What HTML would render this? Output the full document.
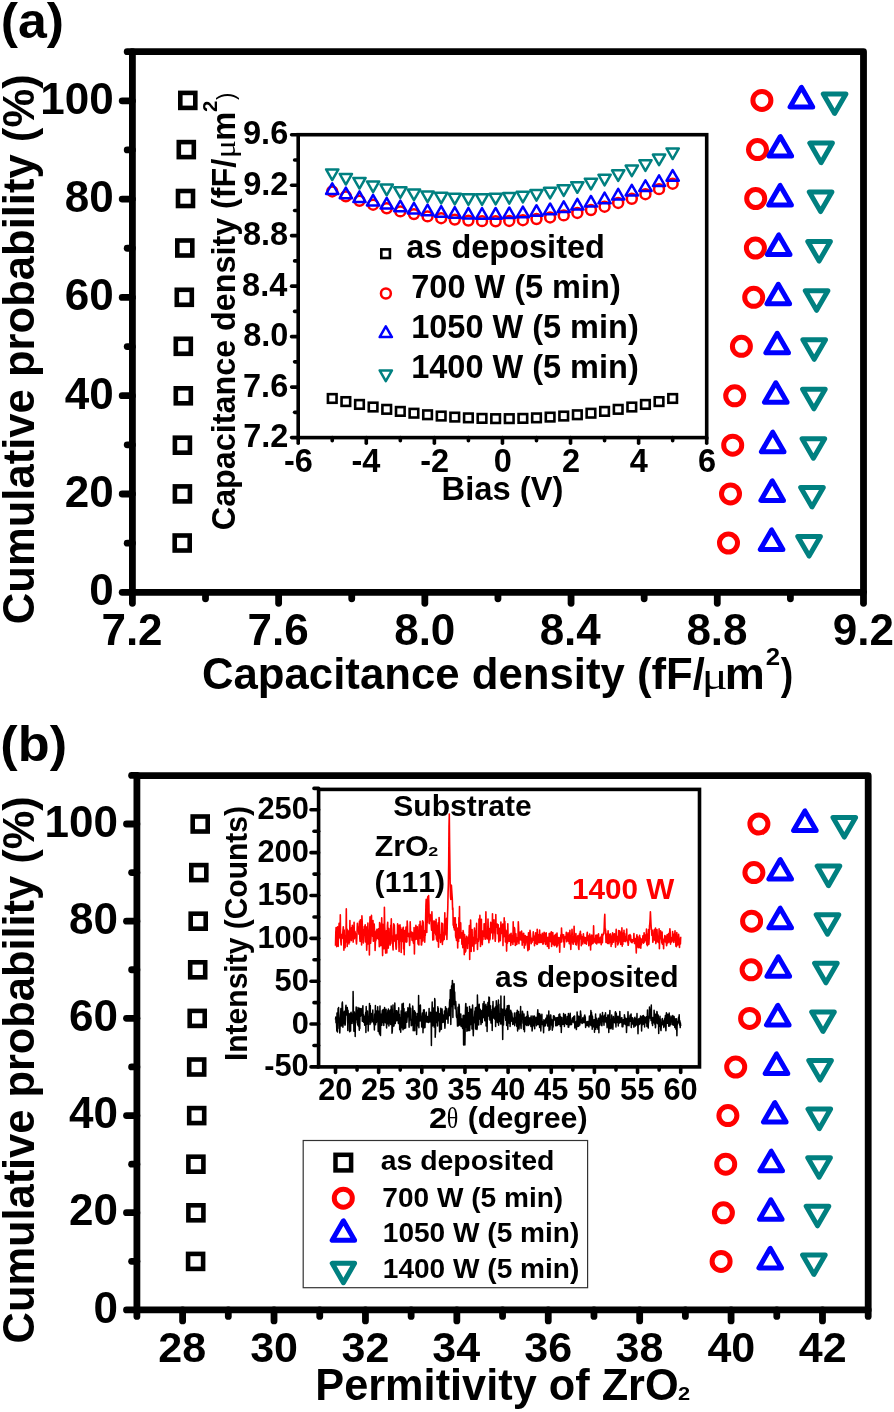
<!DOCTYPE html>
<html lang="en"><head><meta charset="utf-8"><title>Figure</title>
<style>html,body{margin:0;padding:0;background:#fff}svg{display:block}</style></head>
<body>
<svg width="894" height="1412" viewBox="0 0 894 1412">
<defs><filter id="soft" x="0" y="0" width="100%" height="100%" filterUnits="userSpaceOnUse" primitiveUnits="userSpaceOnUse"><feGaussianBlur stdDeviation="0.55"/></filter></defs>
<rect width="894" height="1412" fill="#fff"/>
<g filter="url(#soft)">
<rect width="894" height="1412" fill="#fff"/>
<rect x="132.4" y="51.6" width="731.1" height="540.6999999999999" fill="none" stroke="#000" stroke-width="6.8" stroke-linejoin="round"/>
<line x1="132.40" y1="592.30" x2="122.20" y2="592.30" stroke="#000" stroke-width="6.8" stroke-linecap="round"/>
<line x1="132.40" y1="543.15" x2="127.20" y2="543.15" stroke="#000" stroke-width="6.8" stroke-linecap="round"/>
<line x1="132.40" y1="494.00" x2="122.20" y2="494.00" stroke="#000" stroke-width="6.8" stroke-linecap="round"/>
<line x1="132.40" y1="444.85" x2="127.20" y2="444.85" stroke="#000" stroke-width="6.8" stroke-linecap="round"/>
<line x1="132.40" y1="395.70" x2="122.20" y2="395.70" stroke="#000" stroke-width="6.8" stroke-linecap="round"/>
<line x1="132.40" y1="346.55" x2="127.20" y2="346.55" stroke="#000" stroke-width="6.8" stroke-linecap="round"/>
<line x1="132.40" y1="297.40" x2="122.20" y2="297.40" stroke="#000" stroke-width="6.8" stroke-linecap="round"/>
<line x1="132.40" y1="248.25" x2="127.20" y2="248.25" stroke="#000" stroke-width="6.8" stroke-linecap="round"/>
<line x1="132.40" y1="199.10" x2="122.20" y2="199.10" stroke="#000" stroke-width="6.8" stroke-linecap="round"/>
<line x1="132.40" y1="149.95" x2="127.20" y2="149.95" stroke="#000" stroke-width="6.8" stroke-linecap="round"/>
<line x1="132.40" y1="100.80" x2="122.20" y2="100.80" stroke="#000" stroke-width="6.8" stroke-linecap="round"/>
<line x1="132.40" y1="51.65" x2="127.20" y2="51.65" stroke="#000" stroke-width="6.8" stroke-linecap="round"/>
<line x1="132.40" y1="592.30" x2="132.40" y2="603.30" stroke="#000" stroke-width="6.8" stroke-linecap="round"/>
<line x1="205.51" y1="592.30" x2="205.51" y2="598.80" stroke="#000" stroke-width="6.8" stroke-linecap="round"/>
<line x1="278.62" y1="592.30" x2="278.62" y2="603.30" stroke="#000" stroke-width="6.8" stroke-linecap="round"/>
<line x1="351.73" y1="592.30" x2="351.73" y2="598.80" stroke="#000" stroke-width="6.8" stroke-linecap="round"/>
<line x1="424.84" y1="592.30" x2="424.84" y2="603.30" stroke="#000" stroke-width="6.8" stroke-linecap="round"/>
<line x1="497.95" y1="592.30" x2="497.95" y2="598.80" stroke="#000" stroke-width="6.8" stroke-linecap="round"/>
<line x1="571.06" y1="592.30" x2="571.06" y2="603.30" stroke="#000" stroke-width="6.8" stroke-linecap="round"/>
<line x1="644.17" y1="592.30" x2="644.17" y2="598.80" stroke="#000" stroke-width="6.8" stroke-linecap="round"/>
<line x1="717.28" y1="592.30" x2="717.28" y2="603.30" stroke="#000" stroke-width="6.8" stroke-linecap="round"/>
<line x1="790.39" y1="592.30" x2="790.39" y2="598.80" stroke="#000" stroke-width="6.8" stroke-linecap="round"/>
<line x1="863.50" y1="592.30" x2="863.50" y2="603.30" stroke="#000" stroke-width="6.8" stroke-linecap="round"/>
<text x="89.14" y="605.10" font-size="44" font-family="Liberation Sans, Arial, sans-serif" font-weight="bold">0</text>
<text x="64.72" y="506.80" font-size="44" font-family="Liberation Sans, Arial, sans-serif" font-weight="bold">20</text>
<text x="64.72" y="408.50" font-size="44" font-family="Liberation Sans, Arial, sans-serif" font-weight="bold">40</text>
<text x="64.72" y="310.20" font-size="44" font-family="Liberation Sans, Arial, sans-serif" font-weight="bold">60</text>
<text x="64.72" y="211.90" font-size="44" font-family="Liberation Sans, Arial, sans-serif" font-weight="bold">80</text>
<text x="40.30" y="113.60" font-size="44" font-family="Liberation Sans, Arial, sans-serif" font-weight="bold">100</text>
<text x="101.41" y="645.30" font-size="44" font-family="Liberation Sans, Arial, sans-serif" font-weight="bold">7.2</text>
<text x="247.52" y="645.30" font-size="44" font-family="Liberation Sans, Arial, sans-serif" font-weight="bold">7.6</text>
<text x="394.18" y="645.30" font-size="44" font-family="Liberation Sans, Arial, sans-serif" font-weight="bold">8.0</text>
<text x="539.63" y="645.30" font-size="44" font-family="Liberation Sans, Arial, sans-serif" font-weight="bold">8.4</text>
<text x="686.40" y="645.30" font-size="44" font-family="Liberation Sans, Arial, sans-serif" font-weight="bold">8.8</text>
<text x="832.73" y="645.30" font-size="44" font-family="Liberation Sans, Arial, sans-serif" font-weight="bold">9.2</text>
<text transform="translate(33.90 624.24) rotate(-90)" font-size="44.5" font-family="Liberation Sans, Arial, sans-serif" font-weight="bold" textLength="549.92" lengthAdjust="spacingAndGlyphs">Cumulative probability (%)</text>
<text x="0.81" y="37.80" font-size="50.5" font-family="Liberation Sans, Arial, sans-serif" font-weight="bold" textLength="63.34" lengthAdjust="spacingAndGlyphs">(a)</text>
<text font-family="Liberation Sans, Arial, sans-serif" font-weight="bold"><tspan x="201.95" y="688.80" font-size="44.5"  textLength="503.01" lengthAdjust="spacingAndGlyphs">Capacitance density (fF/</tspan><tspan x="701.73" y="688.50" font-size="37" font-family="Liberation Serif, DejaVu Serif, serif" font-weight="normal" textLength="25.97" lengthAdjust="spacingAndGlyphs">μ</tspan><tspan x="724.78" y="688.80" font-size="44.5"  textLength="40.01" lengthAdjust="spacingAndGlyphs">m</tspan><tspan x="765.70" y="665.20" font-size="24"  textLength="14.37" lengthAdjust="spacingAndGlyphs">2</tspan><tspan x="780.81" y="688.80" font-size="44.5"  textLength="12.49" lengthAdjust="spacingAndGlyphs">)</tspan></text>
<rect x="180.30" y="92.90" width="15.00" height="15.00" fill="none" stroke="#000" stroke-width="4.6"/>
<circle cx="761.90" cy="100.40" r="9.00" fill="none" stroke="#ff0000" stroke-width="5.0"/>
<polygon points="801.40,87.35 790.10,106.92 812.70,106.92" fill="none" stroke="#0000ff" stroke-width="5.0" stroke-linejoin="round"/>
<polygon points="834.60,113.45 823.30,93.88 845.90,93.88" fill="none" stroke="#008080" stroke-width="5.0" stroke-linejoin="round"/>
<rect x="178.80" y="142.10" width="15.00" height="15.00" fill="none" stroke="#000" stroke-width="4.6"/>
<circle cx="757.50" cy="149.60" r="9.00" fill="none" stroke="#ff0000" stroke-width="5.0"/>
<polygon points="780.30,136.55 769.00,156.12 791.60,156.12" fill="none" stroke="#0000ff" stroke-width="5.0" stroke-linejoin="round"/>
<polygon points="821.10,162.65 809.80,143.08 832.40,143.08" fill="none" stroke="#008080" stroke-width="5.0" stroke-linejoin="round"/>
<rect x="178.00" y="191.00" width="15.00" height="15.00" fill="none" stroke="#000" stroke-width="4.6"/>
<circle cx="755.70" cy="198.50" r="9.00" fill="none" stroke="#ff0000" stroke-width="5.0"/>
<polygon points="780.10,185.45 768.80,205.02 791.40,205.02" fill="none" stroke="#0000ff" stroke-width="5.0" stroke-linejoin="round"/>
<polygon points="820.60,211.55 809.30,191.98 831.90,191.98" fill="none" stroke="#008080" stroke-width="5.0" stroke-linejoin="round"/>
<rect x="177.30" y="240.50" width="15.00" height="15.00" fill="none" stroke="#000" stroke-width="4.6"/>
<circle cx="755.40" cy="248.00" r="9.00" fill="none" stroke="#ff0000" stroke-width="5.0"/>
<polygon points="778.70,234.95 767.40,254.52 790.00,254.52" fill="none" stroke="#0000ff" stroke-width="5.0" stroke-linejoin="round"/>
<polygon points="819.10,261.05 807.80,241.48 830.40,241.48" fill="none" stroke="#008080" stroke-width="5.0" stroke-linejoin="round"/>
<rect x="176.80" y="289.80" width="15.00" height="15.00" fill="none" stroke="#000" stroke-width="4.6"/>
<circle cx="753.70" cy="297.30" r="9.00" fill="none" stroke="#ff0000" stroke-width="5.0"/>
<polygon points="778.30,284.25 767.00,303.82 789.60,303.82" fill="none" stroke="#0000ff" stroke-width="5.0" stroke-linejoin="round"/>
<polygon points="816.60,310.35 805.30,290.78 827.90,290.78" fill="none" stroke="#008080" stroke-width="5.0" stroke-linejoin="round"/>
<rect x="175.80" y="338.80" width="15.00" height="15.00" fill="none" stroke="#000" stroke-width="4.6"/>
<circle cx="741.40" cy="346.30" r="9.00" fill="none" stroke="#ff0000" stroke-width="5.0"/>
<polygon points="777.20,333.25 765.90,352.82 788.50,352.82" fill="none" stroke="#0000ff" stroke-width="5.0" stroke-linejoin="round"/>
<polygon points="814.20,359.35 802.90,339.78 825.50,339.78" fill="none" stroke="#008080" stroke-width="5.0" stroke-linejoin="round"/>
<rect x="175.80" y="388.30" width="15.00" height="15.00" fill="none" stroke="#000" stroke-width="4.6"/>
<circle cx="734.70" cy="395.80" r="9.00" fill="none" stroke="#ff0000" stroke-width="5.0"/>
<polygon points="775.80,382.75 764.50,402.32 787.10,402.32" fill="none" stroke="#0000ff" stroke-width="5.0" stroke-linejoin="round"/>
<polygon points="813.90,408.85 802.60,389.28 825.20,389.28" fill="none" stroke="#008080" stroke-width="5.0" stroke-linejoin="round"/>
<rect x="174.90" y="437.70" width="15.00" height="15.00" fill="none" stroke="#000" stroke-width="4.6"/>
<circle cx="732.70" cy="445.20" r="9.00" fill="none" stroke="#ff0000" stroke-width="5.0"/>
<polygon points="772.70,432.15 761.40,451.72 784.00,451.72" fill="none" stroke="#0000ff" stroke-width="5.0" stroke-linejoin="round"/>
<polygon points="813.40,458.25 802.10,438.68 824.70,438.68" fill="none" stroke="#008080" stroke-width="5.0" stroke-linejoin="round"/>
<rect x="174.90" y="486.40" width="15.00" height="15.00" fill="none" stroke="#000" stroke-width="4.6"/>
<circle cx="730.50" cy="493.90" r="9.00" fill="none" stroke="#ff0000" stroke-width="5.0"/>
<polygon points="772.20,480.85 760.90,500.42 783.50,500.42" fill="none" stroke="#0000ff" stroke-width="5.0" stroke-linejoin="round"/>
<polygon points="812.00,506.95 800.70,487.38 823.30,487.38" fill="none" stroke="#008080" stroke-width="5.0" stroke-linejoin="round"/>
<rect x="174.70" y="535.50" width="15.00" height="15.00" fill="none" stroke="#000" stroke-width="4.6"/>
<circle cx="728.50" cy="543.00" r="9.00" fill="none" stroke="#ff0000" stroke-width="5.0"/>
<polygon points="771.60,529.95 760.30,549.52 782.90,549.52" fill="none" stroke="#0000ff" stroke-width="5.0" stroke-linejoin="round"/>
<polygon points="809.10,556.05 797.80,536.48 820.40,536.48" fill="none" stroke="#008080" stroke-width="5.0" stroke-linejoin="round"/>
<rect x="298.2" y="134.7" width="408.50000000000006" height="302.90000000000003" fill="none" stroke="#000" stroke-width="3.6"/>
<line x1="298.20" y1="437.60" x2="291.60" y2="437.60" stroke="#000" stroke-width="3.6" stroke-linecap="round"/>
<line x1="298.20" y1="412.36" x2="294.60" y2="412.36" stroke="#000" stroke-width="3.6" stroke-linecap="round"/>
<line x1="298.20" y1="387.12" x2="291.60" y2="387.12" stroke="#000" stroke-width="3.6" stroke-linecap="round"/>
<line x1="298.20" y1="361.87" x2="294.60" y2="361.87" stroke="#000" stroke-width="3.6" stroke-linecap="round"/>
<line x1="298.20" y1="336.63" x2="291.60" y2="336.63" stroke="#000" stroke-width="3.6" stroke-linecap="round"/>
<line x1="298.20" y1="311.39" x2="294.60" y2="311.39" stroke="#000" stroke-width="3.6" stroke-linecap="round"/>
<line x1="298.20" y1="286.15" x2="291.60" y2="286.15" stroke="#000" stroke-width="3.6" stroke-linecap="round"/>
<line x1="298.20" y1="260.91" x2="294.60" y2="260.91" stroke="#000" stroke-width="3.6" stroke-linecap="round"/>
<line x1="298.20" y1="235.67" x2="291.60" y2="235.67" stroke="#000" stroke-width="3.6" stroke-linecap="round"/>
<line x1="298.20" y1="210.43" x2="294.60" y2="210.43" stroke="#000" stroke-width="3.6" stroke-linecap="round"/>
<line x1="298.20" y1="185.18" x2="291.60" y2="185.18" stroke="#000" stroke-width="3.6" stroke-linecap="round"/>
<line x1="298.20" y1="159.94" x2="294.60" y2="159.94" stroke="#000" stroke-width="3.6" stroke-linecap="round"/>
<line x1="298.20" y1="134.70" x2="291.60" y2="134.70" stroke="#000" stroke-width="3.6" stroke-linecap="round"/>
<line x1="298.20" y1="437.60" x2="298.20" y2="443.20" stroke="#000" stroke-width="3.6" stroke-linecap="round"/>
<line x1="332.24" y1="437.60" x2="332.24" y2="440.80" stroke="#000" stroke-width="3.6" stroke-linecap="round"/>
<line x1="366.28" y1="437.60" x2="366.28" y2="443.20" stroke="#000" stroke-width="3.6" stroke-linecap="round"/>
<line x1="400.32" y1="437.60" x2="400.32" y2="440.80" stroke="#000" stroke-width="3.6" stroke-linecap="round"/>
<line x1="434.37" y1="437.60" x2="434.37" y2="443.20" stroke="#000" stroke-width="3.6" stroke-linecap="round"/>
<line x1="468.41" y1="437.60" x2="468.41" y2="440.80" stroke="#000" stroke-width="3.6" stroke-linecap="round"/>
<line x1="502.45" y1="437.60" x2="502.45" y2="443.20" stroke="#000" stroke-width="3.6" stroke-linecap="round"/>
<line x1="536.49" y1="437.60" x2="536.49" y2="440.80" stroke="#000" stroke-width="3.6" stroke-linecap="round"/>
<line x1="570.53" y1="437.60" x2="570.53" y2="443.20" stroke="#000" stroke-width="3.6" stroke-linecap="round"/>
<line x1="604.58" y1="437.60" x2="604.58" y2="440.80" stroke="#000" stroke-width="3.6" stroke-linecap="round"/>
<line x1="638.62" y1="437.60" x2="638.62" y2="443.20" stroke="#000" stroke-width="3.6" stroke-linecap="round"/>
<line x1="672.66" y1="437.60" x2="672.66" y2="440.80" stroke="#000" stroke-width="3.6" stroke-linecap="round"/>
<line x1="706.70" y1="437.60" x2="706.70" y2="443.20" stroke="#000" stroke-width="3.6" stroke-linecap="round"/>
<text x="243.22" y="447.00" font-size="32.5" font-family="Liberation Sans, Arial, sans-serif" font-weight="bold">7.2</text>
<text x="243.06" y="396.52" font-size="32.5" font-family="Liberation Sans, Arial, sans-serif" font-weight="bold">7.6</text>
<text x="243.23" y="346.03" font-size="32.5" font-family="Liberation Sans, Arial, sans-serif" font-weight="bold">8.0</text>
<text x="242.09" y="295.55" font-size="32.5" font-family="Liberation Sans, Arial, sans-serif" font-weight="bold">8.4</text>
<text x="242.90" y="245.07" font-size="32.5" font-family="Liberation Sans, Arial, sans-serif" font-weight="bold">8.8</text>
<text x="243.23" y="194.58" font-size="32.5" font-family="Liberation Sans, Arial, sans-serif" font-weight="bold">9.2</text>
<text x="243.06" y="144.10" font-size="32.5" font-family="Liberation Sans, Arial, sans-serif" font-weight="bold">9.6</text>
<text x="283.96" y="472.40" font-size="32.5" font-family="Liberation Sans, Arial, sans-serif" font-weight="bold">-6</text>
<text x="351.55" y="472.40" font-size="32.5" font-family="Liberation Sans, Arial, sans-serif" font-weight="bold">-4</text>
<text x="420.20" y="472.40" font-size="32.5" font-family="Liberation Sans, Arial, sans-serif" font-weight="bold">-2</text>
<text x="493.73" y="472.40" font-size="32.5" font-family="Liberation Sans, Arial, sans-serif" font-weight="bold">0</text>
<text x="561.90" y="472.40" font-size="32.5" font-family="Liberation Sans, Arial, sans-serif" font-weight="bold">2</text>
<text x="629.74" y="472.40" font-size="32.5" font-family="Liberation Sans, Arial, sans-serif" font-weight="bold">4</text>
<text x="697.98" y="472.40" font-size="32.5" font-family="Liberation Sans, Arial, sans-serif" font-weight="bold">6</text>
<rect x="327.94" y="394.18" width="8.60" height="8.60" fill="none" stroke="#000" stroke-width="2.6"/>
<rect x="341.56" y="397.28" width="8.60" height="8.60" fill="none" stroke="#000" stroke-width="2.6"/>
<rect x="355.18" y="400.12" width="8.60" height="8.60" fill="none" stroke="#000" stroke-width="2.6"/>
<rect x="368.79" y="402.71" width="8.60" height="8.60" fill="none" stroke="#000" stroke-width="2.6"/>
<rect x="382.41" y="405.03" width="8.60" height="8.60" fill="none" stroke="#000" stroke-width="2.6"/>
<rect x="396.02" y="407.10" width="8.60" height="8.60" fill="none" stroke="#000" stroke-width="2.6"/>
<rect x="409.64" y="408.91" width="8.60" height="8.60" fill="none" stroke="#000" stroke-width="2.6"/>
<rect x="423.26" y="410.46" width="8.60" height="8.60" fill="none" stroke="#000" stroke-width="2.6"/>
<rect x="436.88" y="411.75" width="8.60" height="8.60" fill="none" stroke="#000" stroke-width="2.6"/>
<rect x="450.49" y="412.79" width="8.60" height="8.60" fill="none" stroke="#000" stroke-width="2.6"/>
<rect x="464.11" y="413.56" width="8.60" height="8.60" fill="none" stroke="#000" stroke-width="2.6"/>
<rect x="477.73" y="414.08" width="8.60" height="8.60" fill="none" stroke="#000" stroke-width="2.6"/>
<rect x="491.34" y="414.34" width="8.60" height="8.60" fill="none" stroke="#000" stroke-width="2.6"/>
<rect x="504.96" y="414.34" width="8.60" height="8.60" fill="none" stroke="#000" stroke-width="2.6"/>
<rect x="518.58" y="414.08" width="8.60" height="8.60" fill="none" stroke="#000" stroke-width="2.6"/>
<rect x="532.19" y="413.56" width="8.60" height="8.60" fill="none" stroke="#000" stroke-width="2.6"/>
<rect x="545.81" y="412.79" width="8.60" height="8.60" fill="none" stroke="#000" stroke-width="2.6"/>
<rect x="559.43" y="411.75" width="8.60" height="8.60" fill="none" stroke="#000" stroke-width="2.6"/>
<rect x="573.04" y="410.46" width="8.60" height="8.60" fill="none" stroke="#000" stroke-width="2.6"/>
<rect x="586.66" y="408.91" width="8.60" height="8.60" fill="none" stroke="#000" stroke-width="2.6"/>
<rect x="600.28" y="407.10" width="8.60" height="8.60" fill="none" stroke="#000" stroke-width="2.6"/>
<rect x="613.89" y="405.03" width="8.60" height="8.60" fill="none" stroke="#000" stroke-width="2.6"/>
<rect x="627.51" y="402.71" width="8.60" height="8.60" fill="none" stroke="#000" stroke-width="2.6"/>
<rect x="641.13" y="400.12" width="8.60" height="8.60" fill="none" stroke="#000" stroke-width="2.6"/>
<rect x="654.74" y="397.28" width="8.60" height="8.60" fill="none" stroke="#000" stroke-width="2.6"/>
<rect x="668.36" y="394.18" width="8.60" height="8.60" fill="none" stroke="#000" stroke-width="2.6"/>
<circle cx="332.24" cy="191.49" r="4.95" fill="none" stroke="#ff0000" stroke-width="2.5"/>
<circle cx="345.86" cy="196.33" r="4.95" fill="none" stroke="#ff0000" stroke-width="2.5"/>
<circle cx="359.48" cy="200.75" r="4.95" fill="none" stroke="#ff0000" stroke-width="2.5"/>
<circle cx="373.09" cy="204.73" r="4.95" fill="none" stroke="#ff0000" stroke-width="2.5"/>
<circle cx="386.71" cy="208.29" r="4.95" fill="none" stroke="#ff0000" stroke-width="2.5"/>
<circle cx="400.32" cy="211.42" r="4.95" fill="none" stroke="#ff0000" stroke-width="2.5"/>
<circle cx="413.94" cy="214.11" r="4.95" fill="none" stroke="#ff0000" stroke-width="2.5"/>
<circle cx="427.56" cy="216.38" r="4.95" fill="none" stroke="#ff0000" stroke-width="2.5"/>
<circle cx="441.18" cy="218.22" r="4.95" fill="none" stroke="#ff0000" stroke-width="2.5"/>
<circle cx="454.79" cy="219.62" r="4.95" fill="none" stroke="#ff0000" stroke-width="2.5"/>
<circle cx="468.41" cy="220.60" r="4.95" fill="none" stroke="#ff0000" stroke-width="2.5"/>
<circle cx="482.03" cy="221.15" r="4.95" fill="none" stroke="#ff0000" stroke-width="2.5"/>
<circle cx="495.64" cy="221.27" r="4.95" fill="none" stroke="#ff0000" stroke-width="2.5"/>
<circle cx="509.26" cy="220.96" r="4.95" fill="none" stroke="#ff0000" stroke-width="2.5"/>
<circle cx="522.88" cy="220.22" r="4.95" fill="none" stroke="#ff0000" stroke-width="2.5"/>
<circle cx="536.49" cy="219.04" r="4.95" fill="none" stroke="#ff0000" stroke-width="2.5"/>
<circle cx="550.11" cy="217.44" r="4.95" fill="none" stroke="#ff0000" stroke-width="2.5"/>
<circle cx="563.73" cy="215.41" r="4.95" fill="none" stroke="#ff0000" stroke-width="2.5"/>
<circle cx="577.34" cy="212.95" r="4.95" fill="none" stroke="#ff0000" stroke-width="2.5"/>
<circle cx="590.96" cy="210.06" r="4.95" fill="none" stroke="#ff0000" stroke-width="2.5"/>
<circle cx="604.58" cy="206.74" r="4.95" fill="none" stroke="#ff0000" stroke-width="2.5"/>
<circle cx="618.19" cy="202.99" r="4.95" fill="none" stroke="#ff0000" stroke-width="2.5"/>
<circle cx="631.81" cy="198.82" r="4.95" fill="none" stroke="#ff0000" stroke-width="2.5"/>
<circle cx="645.43" cy="194.21" r="4.95" fill="none" stroke="#ff0000" stroke-width="2.5"/>
<circle cx="659.04" cy="189.17" r="4.95" fill="none" stroke="#ff0000" stroke-width="2.5"/>
<circle cx="672.66" cy="183.70" r="4.95" fill="none" stroke="#ff0000" stroke-width="2.5"/>
<polygon points="332.24,183.28 326.09,193.93 338.39,193.93" fill="none" stroke="#0000ff" stroke-width="2.5" stroke-linejoin="round"/>
<polygon points="345.86,187.53 339.71,198.18 352.01,198.18" fill="none" stroke="#0000ff" stroke-width="2.5" stroke-linejoin="round"/>
<polygon points="359.48,191.38 353.33,202.03 365.62,202.03" fill="none" stroke="#0000ff" stroke-width="2.5" stroke-linejoin="round"/>
<polygon points="373.09,194.83 366.94,205.48 379.24,205.48" fill="none" stroke="#0000ff" stroke-width="2.5" stroke-linejoin="round"/>
<polygon points="386.71,197.88 380.56,208.53 392.86,208.53" fill="none" stroke="#0000ff" stroke-width="2.5" stroke-linejoin="round"/>
<polygon points="400.32,200.54 394.18,211.19 406.47,211.19" fill="none" stroke="#0000ff" stroke-width="2.5" stroke-linejoin="round"/>
<polygon points="413.94,202.79 407.79,213.44 420.09,213.44" fill="none" stroke="#0000ff" stroke-width="2.5" stroke-linejoin="round"/>
<polygon points="427.56,204.65 421.41,215.30 433.71,215.30" fill="none" stroke="#0000ff" stroke-width="2.5" stroke-linejoin="round"/>
<polygon points="441.18,206.11 435.03,216.77 447.32,216.77" fill="none" stroke="#0000ff" stroke-width="2.5" stroke-linejoin="round"/>
<polygon points="454.79,207.18 448.64,217.83 460.94,217.83" fill="none" stroke="#0000ff" stroke-width="2.5" stroke-linejoin="round"/>
<polygon points="468.41,207.84 462.26,218.50 474.56,218.50" fill="none" stroke="#0000ff" stroke-width="2.5" stroke-linejoin="round"/>
<polygon points="482.03,208.11 475.88,218.77 488.18,218.77" fill="none" stroke="#0000ff" stroke-width="2.5" stroke-linejoin="round"/>
<polygon points="495.64,207.98 489.49,218.64 501.79,218.64" fill="none" stroke="#0000ff" stroke-width="2.5" stroke-linejoin="round"/>
<polygon points="509.26,207.46 503.11,218.11 515.41,218.11" fill="none" stroke="#0000ff" stroke-width="2.5" stroke-linejoin="round"/>
<polygon points="522.88,206.53 516.73,217.18 529.02,217.18" fill="none" stroke="#0000ff" stroke-width="2.5" stroke-linejoin="round"/>
<polygon points="536.49,205.21 530.34,215.86 542.64,215.86" fill="none" stroke="#0000ff" stroke-width="2.5" stroke-linejoin="round"/>
<polygon points="550.11,203.49 543.96,214.14 556.26,214.14" fill="none" stroke="#0000ff" stroke-width="2.5" stroke-linejoin="round"/>
<polygon points="563.73,201.37 557.58,212.02 569.88,212.02" fill="none" stroke="#0000ff" stroke-width="2.5" stroke-linejoin="round"/>
<polygon points="577.34,198.85 571.19,209.51 583.49,209.51" fill="none" stroke="#0000ff" stroke-width="2.5" stroke-linejoin="round"/>
<polygon points="590.96,195.94 584.81,206.59 597.11,206.59" fill="none" stroke="#0000ff" stroke-width="2.5" stroke-linejoin="round"/>
<polygon points="604.58,192.63 598.43,203.28 610.73,203.28" fill="none" stroke="#0000ff" stroke-width="2.5" stroke-linejoin="round"/>
<polygon points="618.19,188.92 612.04,199.57 624.34,199.57" fill="none" stroke="#0000ff" stroke-width="2.5" stroke-linejoin="round"/>
<polygon points="631.81,184.81 625.66,195.46 637.96,195.46" fill="none" stroke="#0000ff" stroke-width="2.5" stroke-linejoin="round"/>
<polygon points="645.43,180.31 639.28,190.96 651.58,190.96" fill="none" stroke="#0000ff" stroke-width="2.5" stroke-linejoin="round"/>
<polygon points="659.04,175.40 652.89,186.06 665.19,186.06" fill="none" stroke="#0000ff" stroke-width="2.5" stroke-linejoin="round"/>
<polygon points="672.66,170.10 666.51,180.75 678.81,180.75" fill="none" stroke="#0000ff" stroke-width="2.5" stroke-linejoin="round"/>
<polygon points="332.24,180.06 326.09,169.41 338.39,169.41" fill="none" stroke="#008080" stroke-width="2.5" stroke-linejoin="round"/>
<polygon points="345.86,184.53 339.71,173.88 352.01,173.88" fill="none" stroke="#008080" stroke-width="2.5" stroke-linejoin="round"/>
<polygon points="359.48,188.55 353.33,177.90 365.62,177.90" fill="none" stroke="#008080" stroke-width="2.5" stroke-linejoin="round"/>
<polygon points="373.09,192.13 366.94,181.48 379.24,181.48" fill="none" stroke="#008080" stroke-width="2.5" stroke-linejoin="round"/>
<polygon points="386.71,195.27 380.56,184.62 392.86,184.62" fill="none" stroke="#008080" stroke-width="2.5" stroke-linejoin="round"/>
<polygon points="400.32,197.97 394.18,187.32 406.47,187.32" fill="none" stroke="#008080" stroke-width="2.5" stroke-linejoin="round"/>
<polygon points="413.94,200.23 407.79,189.57 420.09,189.57" fill="none" stroke="#008080" stroke-width="2.5" stroke-linejoin="round"/>
<polygon points="427.56,202.04 421.41,191.39 433.71,191.39" fill="none" stroke="#008080" stroke-width="2.5" stroke-linejoin="round"/>
<polygon points="441.18,203.41 435.03,192.76 447.32,192.76" fill="none" stroke="#008080" stroke-width="2.5" stroke-linejoin="round"/>
<polygon points="454.79,204.34 448.64,193.69 460.94,193.69" fill="none" stroke="#008080" stroke-width="2.5" stroke-linejoin="round"/>
<polygon points="468.41,204.83 462.26,194.17 474.56,194.17" fill="none" stroke="#008080" stroke-width="2.5" stroke-linejoin="round"/>
<polygon points="482.03,204.87 475.88,194.22 488.18,194.22" fill="none" stroke="#008080" stroke-width="2.5" stroke-linejoin="round"/>
<polygon points="495.64,204.47 489.49,193.82 501.79,193.82" fill="none" stroke="#008080" stroke-width="2.5" stroke-linejoin="round"/>
<polygon points="509.26,203.63 503.11,192.98 515.41,192.98" fill="none" stroke="#008080" stroke-width="2.5" stroke-linejoin="round"/>
<polygon points="522.88,202.35 516.73,191.70 529.02,191.70" fill="none" stroke="#008080" stroke-width="2.5" stroke-linejoin="round"/>
<polygon points="536.49,200.62 530.34,189.97 542.64,189.97" fill="none" stroke="#008080" stroke-width="2.5" stroke-linejoin="round"/>
<polygon points="550.11,198.46 543.96,187.81 556.26,187.81" fill="none" stroke="#008080" stroke-width="2.5" stroke-linejoin="round"/>
<polygon points="563.73,195.85 557.58,185.20 569.88,185.20" fill="none" stroke="#008080" stroke-width="2.5" stroke-linejoin="round"/>
<polygon points="577.34,192.80 571.19,182.15 583.49,182.15" fill="none" stroke="#008080" stroke-width="2.5" stroke-linejoin="round"/>
<polygon points="590.96,189.30 584.81,178.65 597.11,178.65" fill="none" stroke="#008080" stroke-width="2.5" stroke-linejoin="round"/>
<polygon points="604.58,185.37 598.43,174.72 610.73,174.72" fill="none" stroke="#008080" stroke-width="2.5" stroke-linejoin="round"/>
<polygon points="618.19,180.99 612.04,170.34 624.34,170.34" fill="none" stroke="#008080" stroke-width="2.5" stroke-linejoin="round"/>
<polygon points="631.81,176.17 625.66,165.52 637.96,165.52" fill="none" stroke="#008080" stroke-width="2.5" stroke-linejoin="round"/>
<polygon points="645.43,170.91 639.28,160.25 651.58,160.25" fill="none" stroke="#008080" stroke-width="2.5" stroke-linejoin="round"/>
<polygon points="659.04,165.20 652.89,154.55 665.19,154.55" fill="none" stroke="#008080" stroke-width="2.5" stroke-linejoin="round"/>
<polygon points="672.66,159.05 666.51,148.40 678.81,148.40" fill="none" stroke="#008080" stroke-width="2.5" stroke-linejoin="round"/>
<rect x="381.30" y="249.40" width="8.60" height="8.60" fill="none" stroke="#000" stroke-width="2.6"/>
<circle cx="385.90" cy="293.50" r="4.95" fill="none" stroke="#ff0000" stroke-width="2.5"/>
<polygon points="385.80,326.40 379.65,337.05 391.95,337.05" fill="none" stroke="#0000ff" stroke-width="2.5" stroke-linejoin="round"/>
<polygon points="385.80,381.10 379.65,370.45 391.95,370.45" fill="none" stroke="#008080" stroke-width="2.5" stroke-linejoin="round"/>
<text x="406.22" y="258.00" font-size="32.5" font-family="Liberation Sans, Arial, sans-serif" font-weight="bold">as deposited</text>
<text x="411.24" y="297.90" font-size="32.5" font-family="Liberation Sans, Arial, sans-serif" font-weight="bold">700 W (5 min)</text>
<text x="411.16" y="337.70" font-size="32.5" font-family="Liberation Sans, Arial, sans-serif" font-weight="bold">1050 W (5 min)</text>
<text x="411.16" y="378.00" font-size="32.5" font-family="Liberation Sans, Arial, sans-serif" font-weight="bold">1400 W (5 min)</text>
<text x="441.57" y="500.00" font-size="32.5" font-family="Liberation Sans, Arial, sans-serif" font-weight="bold" textLength="121.91" lengthAdjust="spacingAndGlyphs">Bias (V)</text>
<text transform="rotate(-90)" font-family="Liberation Sans, Arial, sans-serif" font-weight="bold"><tspan x="-530.19" y="235.00" font-size="32.3" >Capacitance density (fF/</tspan><tspan x="-158.22" y="234.70" font-size="29.3" font-family="Liberation Serif, DejaVu Serif, serif" font-weight="normal" textLength="18.22" lengthAdjust="spacingAndGlyphs">μ</tspan><tspan x="-140.82" y="234.70" font-size="32.8"  textLength="29.01" lengthAdjust="spacingAndGlyphs">m</tspan><tspan x="-111.91" y="216.80" font-size="20.5"  textLength="11.36" lengthAdjust="spacingAndGlyphs">2</tspan><tspan x="-100.02" y="234.10" font-size="24.6" font-weight="normal" textLength="7.30" lengthAdjust="spacingAndGlyphs">)</tspan></text>
<rect x="136.9" y="775.7" width="731.3000000000001" height="534.2" fill="none" stroke="#000" stroke-width="6.8" stroke-linejoin="round"/>
<line x1="136.90" y1="1309.90" x2="126.50" y2="1309.90" stroke="#000" stroke-width="6.8" stroke-linecap="round"/>
<line x1="136.90" y1="1261.31" x2="131.60" y2="1261.31" stroke="#000" stroke-width="6.8" stroke-linecap="round"/>
<line x1="136.90" y1="1212.72" x2="126.50" y2="1212.72" stroke="#000" stroke-width="6.8" stroke-linecap="round"/>
<line x1="136.90" y1="1164.13" x2="131.60" y2="1164.13" stroke="#000" stroke-width="6.8" stroke-linecap="round"/>
<line x1="136.90" y1="1115.54" x2="126.50" y2="1115.54" stroke="#000" stroke-width="6.8" stroke-linecap="round"/>
<line x1="136.90" y1="1066.95" x2="131.60" y2="1066.95" stroke="#000" stroke-width="6.8" stroke-linecap="round"/>
<line x1="136.90" y1="1018.36" x2="126.50" y2="1018.36" stroke="#000" stroke-width="6.8" stroke-linecap="round"/>
<line x1="136.90" y1="969.77" x2="131.60" y2="969.77" stroke="#000" stroke-width="6.8" stroke-linecap="round"/>
<line x1="136.90" y1="921.18" x2="126.50" y2="921.18" stroke="#000" stroke-width="6.8" stroke-linecap="round"/>
<line x1="136.90" y1="872.59" x2="131.60" y2="872.59" stroke="#000" stroke-width="6.8" stroke-linecap="round"/>
<line x1="136.90" y1="824.00" x2="126.50" y2="824.00" stroke="#000" stroke-width="6.8" stroke-linecap="round"/>
<line x1="136.90" y1="775.41" x2="131.60" y2="775.41" stroke="#000" stroke-width="6.8" stroke-linecap="round"/>
<line x1="136.90" y1="1309.90" x2="136.90" y2="1316.40" stroke="#000" stroke-width="6.8" stroke-linecap="round"/>
<line x1="182.61" y1="1309.90" x2="182.61" y2="1320.90" stroke="#000" stroke-width="6.8" stroke-linecap="round"/>
<line x1="228.31" y1="1309.90" x2="228.31" y2="1316.40" stroke="#000" stroke-width="6.8" stroke-linecap="round"/>
<line x1="274.02" y1="1309.90" x2="274.02" y2="1320.90" stroke="#000" stroke-width="6.8" stroke-linecap="round"/>
<line x1="319.73" y1="1309.90" x2="319.73" y2="1316.40" stroke="#000" stroke-width="6.8" stroke-linecap="round"/>
<line x1="365.43" y1="1309.90" x2="365.43" y2="1320.90" stroke="#000" stroke-width="6.8" stroke-linecap="round"/>
<line x1="411.14" y1="1309.90" x2="411.14" y2="1316.40" stroke="#000" stroke-width="6.8" stroke-linecap="round"/>
<line x1="456.84" y1="1309.90" x2="456.84" y2="1320.90" stroke="#000" stroke-width="6.8" stroke-linecap="round"/>
<line x1="502.55" y1="1309.90" x2="502.55" y2="1316.40" stroke="#000" stroke-width="6.8" stroke-linecap="round"/>
<line x1="548.26" y1="1309.90" x2="548.26" y2="1320.90" stroke="#000" stroke-width="6.8" stroke-linecap="round"/>
<line x1="593.96" y1="1309.90" x2="593.96" y2="1316.40" stroke="#000" stroke-width="6.8" stroke-linecap="round"/>
<line x1="639.67" y1="1309.90" x2="639.67" y2="1320.90" stroke="#000" stroke-width="6.8" stroke-linecap="round"/>
<line x1="685.38" y1="1309.90" x2="685.38" y2="1316.40" stroke="#000" stroke-width="6.8" stroke-linecap="round"/>
<line x1="731.08" y1="1309.90" x2="731.08" y2="1320.90" stroke="#000" stroke-width="6.8" stroke-linecap="round"/>
<line x1="776.79" y1="1309.90" x2="776.79" y2="1316.40" stroke="#000" stroke-width="6.8" stroke-linecap="round"/>
<line x1="822.49" y1="1309.90" x2="822.49" y2="1320.90" stroke="#000" stroke-width="6.8" stroke-linecap="round"/>
<line x1="868.20" y1="1309.90" x2="868.20" y2="1316.40" stroke="#000" stroke-width="6.8" stroke-linecap="round"/>
<text x="93.44" y="1322.50" font-size="44" font-family="Liberation Sans, Arial, sans-serif" font-weight="bold">0</text>
<text x="69.02" y="1225.32" font-size="44" font-family="Liberation Sans, Arial, sans-serif" font-weight="bold">20</text>
<text x="69.02" y="1128.14" font-size="44" font-family="Liberation Sans, Arial, sans-serif" font-weight="bold">40</text>
<text x="69.02" y="1030.96" font-size="44" font-family="Liberation Sans, Arial, sans-serif" font-weight="bold">60</text>
<text x="69.02" y="933.78" font-size="44" font-family="Liberation Sans, Arial, sans-serif" font-weight="bold">80</text>
<text x="44.60" y="836.60" font-size="44" font-family="Liberation Sans, Arial, sans-serif" font-weight="bold">100</text>
<text x="158.33" y="1362.30" font-size="43" font-family="Liberation Sans, Arial, sans-serif" font-weight="bold">28</text>
<text x="250.18" y="1362.30" font-size="43" font-family="Liberation Sans, Arial, sans-serif" font-weight="bold">30</text>
<text x="341.59" y="1362.30" font-size="43" font-family="Liberation Sans, Arial, sans-serif" font-weight="bold">32</text>
<text x="432.25" y="1362.30" font-size="43" font-family="Liberation Sans, Arial, sans-serif" font-weight="bold">34</text>
<text x="524.31" y="1362.30" font-size="43" font-family="Liberation Sans, Arial, sans-serif" font-weight="bold">36</text>
<text x="615.61" y="1362.30" font-size="43" font-family="Liberation Sans, Arial, sans-serif" font-weight="bold">38</text>
<text x="707.45" y="1362.30" font-size="43" font-family="Liberation Sans, Arial, sans-serif" font-weight="bold">40</text>
<text x="798.87" y="1362.30" font-size="43" font-family="Liberation Sans, Arial, sans-serif" font-weight="bold">42</text>
<text transform="translate(33.90 1343.44) rotate(-90)" font-size="44.5" font-family="Liberation Sans, Arial, sans-serif" font-weight="bold" textLength="547.10" lengthAdjust="spacingAndGlyphs">Cumulative probability (%)</text>
<text x="0.39" y="761.10" font-size="50.5" font-family="Liberation Sans, Arial, sans-serif" font-weight="bold" textLength="66.66" lengthAdjust="spacingAndGlyphs">(b)</text>
<text font-family="Liberation Sans, Arial, sans-serif" font-weight="bold"><tspan x="315.29" y="1400.20" font-size="43.5"  textLength="363.38" lengthAdjust="spacingAndGlyphs">Permitivity of ZrO</tspan><tspan x="678.13" y="1400.30" font-size="18.5"  textLength="12.17" lengthAdjust="spacingAndGlyphs">2</tspan></text>
<rect x="192.70" y="816.50" width="15.00" height="15.00" fill="none" stroke="#000" stroke-width="4.6"/>
<circle cx="758.90" cy="824.00" r="9.00" fill="none" stroke="#ff0000" stroke-width="5.0"/>
<polygon points="804.90,810.95 793.60,830.52 816.20,830.52" fill="none" stroke="#0000ff" stroke-width="5.0" stroke-linejoin="round"/>
<polygon points="844.30,837.05 833.00,817.48 855.60,817.48" fill="none" stroke="#008080" stroke-width="5.0" stroke-linejoin="round"/>
<rect x="191.30" y="865.10" width="15.00" height="15.00" fill="none" stroke="#000" stroke-width="4.6"/>
<circle cx="753.90" cy="872.60" r="9.00" fill="none" stroke="#ff0000" stroke-width="5.0"/>
<polygon points="780.20,859.55 768.90,879.12 791.50,879.12" fill="none" stroke="#0000ff" stroke-width="5.0" stroke-linejoin="round"/>
<polygon points="828.50,885.65 817.20,866.08 839.80,866.08" fill="none" stroke="#008080" stroke-width="5.0" stroke-linejoin="round"/>
<rect x="190.70" y="913.70" width="15.00" height="15.00" fill="none" stroke="#000" stroke-width="4.6"/>
<circle cx="751.60" cy="921.20" r="9.00" fill="none" stroke="#ff0000" stroke-width="5.0"/>
<polygon points="780.20,908.15 768.90,927.72 791.50,927.72" fill="none" stroke="#0000ff" stroke-width="5.0" stroke-linejoin="round"/>
<polygon points="827.50,934.25 816.20,914.68 838.80,914.68" fill="none" stroke="#008080" stroke-width="5.0" stroke-linejoin="round"/>
<rect x="190.20" y="962.30" width="15.00" height="15.00" fill="none" stroke="#000" stroke-width="4.6"/>
<circle cx="751.10" cy="969.80" r="9.00" fill="none" stroke="#ff0000" stroke-width="5.0"/>
<polygon points="778.30,956.75 767.00,976.32 789.60,976.32" fill="none" stroke="#0000ff" stroke-width="5.0" stroke-linejoin="round"/>
<polygon points="825.90,982.85 814.60,963.28 837.20,963.28" fill="none" stroke="#008080" stroke-width="5.0" stroke-linejoin="round"/>
<rect x="189.70" y="1010.90" width="15.00" height="15.00" fill="none" stroke="#000" stroke-width="4.6"/>
<circle cx="749.60" cy="1018.40" r="9.00" fill="none" stroke="#ff0000" stroke-width="5.0"/>
<polygon points="777.80,1005.35 766.50,1024.92 789.10,1024.92" fill="none" stroke="#0000ff" stroke-width="5.0" stroke-linejoin="round"/>
<polygon points="823.00,1031.45 811.70,1011.88 834.30,1011.88" fill="none" stroke="#008080" stroke-width="5.0" stroke-linejoin="round"/>
<rect x="189.20" y="1059.50" width="15.00" height="15.00" fill="none" stroke="#000" stroke-width="4.6"/>
<circle cx="735.70" cy="1067.00" r="9.00" fill="none" stroke="#ff0000" stroke-width="5.0"/>
<polygon points="776.50,1053.95 765.20,1073.52 787.80,1073.52" fill="none" stroke="#0000ff" stroke-width="5.0" stroke-linejoin="round"/>
<polygon points="820.10,1080.05 808.80,1060.48 831.40,1060.48" fill="none" stroke="#008080" stroke-width="5.0" stroke-linejoin="round"/>
<rect x="189.20" y="1108.10" width="15.00" height="15.00" fill="none" stroke="#000" stroke-width="4.6"/>
<circle cx="727.90" cy="1115.60" r="9.00" fill="none" stroke="#ff0000" stroke-width="5.0"/>
<polygon points="774.80,1102.55 763.50,1122.12 786.10,1122.12" fill="none" stroke="#0000ff" stroke-width="5.0" stroke-linejoin="round"/>
<polygon points="819.30,1128.65 808.00,1109.08 830.60,1109.08" fill="none" stroke="#008080" stroke-width="5.0" stroke-linejoin="round"/>
<rect x="188.40" y="1156.70" width="15.00" height="15.00" fill="none" stroke="#000" stroke-width="4.6"/>
<circle cx="725.70" cy="1164.20" r="9.00" fill="none" stroke="#ff0000" stroke-width="5.0"/>
<polygon points="771.20,1151.15 759.90,1170.72 782.50,1170.72" fill="none" stroke="#0000ff" stroke-width="5.0" stroke-linejoin="round"/>
<polygon points="819.10,1177.25 807.80,1157.68 830.40,1157.68" fill="none" stroke="#008080" stroke-width="5.0" stroke-linejoin="round"/>
<rect x="188.40" y="1205.30" width="15.00" height="15.00" fill="none" stroke="#000" stroke-width="4.6"/>
<circle cx="723.40" cy="1212.80" r="9.00" fill="none" stroke="#ff0000" stroke-width="5.0"/>
<polygon points="770.80,1199.75 759.50,1219.32 782.10,1219.32" fill="none" stroke="#0000ff" stroke-width="5.0" stroke-linejoin="round"/>
<polygon points="817.50,1225.85 806.20,1206.28 828.80,1206.28" fill="none" stroke="#008080" stroke-width="5.0" stroke-linejoin="round"/>
<rect x="188.10" y="1253.90" width="15.00" height="15.00" fill="none" stroke="#000" stroke-width="4.6"/>
<circle cx="721.10" cy="1261.40" r="9.00" fill="none" stroke="#ff0000" stroke-width="5.0"/>
<polygon points="770.20,1248.35 758.90,1267.92 781.50,1267.92" fill="none" stroke="#0000ff" stroke-width="5.0" stroke-linejoin="round"/>
<polygon points="813.90,1274.45 802.60,1254.88 825.20,1254.88" fill="none" stroke="#008080" stroke-width="5.0" stroke-linejoin="round"/>
<rect x="318.6" y="789.4" width="380.9" height="277.5000000000001" fill="#fff" stroke="#000" stroke-width="3.6"/>
<line x1="318.60" y1="1066.90" x2="311.00" y2="1066.90" stroke="#000" stroke-width="3.6" stroke-linecap="round"/>
<line x1="318.60" y1="1045.48" x2="314.00" y2="1045.48" stroke="#000" stroke-width="3.6" stroke-linecap="round"/>
<line x1="318.60" y1="1024.05" x2="311.00" y2="1024.05" stroke="#000" stroke-width="3.6" stroke-linecap="round"/>
<line x1="318.60" y1="1002.63" x2="314.00" y2="1002.63" stroke="#000" stroke-width="3.6" stroke-linecap="round"/>
<line x1="318.60" y1="981.20" x2="311.00" y2="981.20" stroke="#000" stroke-width="3.6" stroke-linecap="round"/>
<line x1="318.60" y1="959.78" x2="314.00" y2="959.78" stroke="#000" stroke-width="3.6" stroke-linecap="round"/>
<line x1="318.60" y1="938.35" x2="311.00" y2="938.35" stroke="#000" stroke-width="3.6" stroke-linecap="round"/>
<line x1="318.60" y1="916.93" x2="314.00" y2="916.93" stroke="#000" stroke-width="3.6" stroke-linecap="round"/>
<line x1="318.60" y1="895.50" x2="311.00" y2="895.50" stroke="#000" stroke-width="3.6" stroke-linecap="round"/>
<line x1="318.60" y1="874.08" x2="314.00" y2="874.08" stroke="#000" stroke-width="3.6" stroke-linecap="round"/>
<line x1="318.60" y1="852.65" x2="311.00" y2="852.65" stroke="#000" stroke-width="3.6" stroke-linecap="round"/>
<line x1="318.60" y1="831.23" x2="314.00" y2="831.23" stroke="#000" stroke-width="3.6" stroke-linecap="round"/>
<line x1="318.60" y1="809.80" x2="311.00" y2="809.80" stroke="#000" stroke-width="3.6" stroke-linecap="round"/>
<line x1="318.60" y1="788.38" x2="314.00" y2="788.38" stroke="#000" stroke-width="3.6" stroke-linecap="round"/>
<line x1="335.50" y1="1066.90" x2="335.50" y2="1072.40" stroke="#000" stroke-width="3.6" stroke-linecap="round"/>
<line x1="357.07" y1="1066.90" x2="357.07" y2="1070.10" stroke="#000" stroke-width="3.6" stroke-linecap="round"/>
<line x1="378.65" y1="1066.90" x2="378.65" y2="1072.40" stroke="#000" stroke-width="3.6" stroke-linecap="round"/>
<line x1="400.23" y1="1066.90" x2="400.23" y2="1070.10" stroke="#000" stroke-width="3.6" stroke-linecap="round"/>
<line x1="421.80" y1="1066.90" x2="421.80" y2="1072.40" stroke="#000" stroke-width="3.6" stroke-linecap="round"/>
<line x1="443.38" y1="1066.90" x2="443.38" y2="1070.10" stroke="#000" stroke-width="3.6" stroke-linecap="round"/>
<line x1="464.95" y1="1066.90" x2="464.95" y2="1072.40" stroke="#000" stroke-width="3.6" stroke-linecap="round"/>
<line x1="486.52" y1="1066.90" x2="486.52" y2="1070.10" stroke="#000" stroke-width="3.6" stroke-linecap="round"/>
<line x1="508.10" y1="1066.90" x2="508.10" y2="1072.40" stroke="#000" stroke-width="3.6" stroke-linecap="round"/>
<line x1="529.67" y1="1066.90" x2="529.67" y2="1070.10" stroke="#000" stroke-width="3.6" stroke-linecap="round"/>
<line x1="551.25" y1="1066.90" x2="551.25" y2="1072.40" stroke="#000" stroke-width="3.6" stroke-linecap="round"/>
<line x1="572.83" y1="1066.90" x2="572.83" y2="1070.10" stroke="#000" stroke-width="3.6" stroke-linecap="round"/>
<line x1="594.40" y1="1066.90" x2="594.40" y2="1072.40" stroke="#000" stroke-width="3.6" stroke-linecap="round"/>
<line x1="615.98" y1="1066.90" x2="615.98" y2="1070.10" stroke="#000" stroke-width="3.6" stroke-linecap="round"/>
<line x1="637.55" y1="1066.90" x2="637.55" y2="1072.40" stroke="#000" stroke-width="3.6" stroke-linecap="round"/>
<line x1="659.12" y1="1066.90" x2="659.12" y2="1070.10" stroke="#000" stroke-width="3.6" stroke-linecap="round"/>
<line x1="680.70" y1="1066.90" x2="680.70" y2="1072.40" stroke="#000" stroke-width="3.6" stroke-linecap="round"/>
<text x="264.23" y="1076.40" font-size="30.8" font-family="Liberation Sans, Arial, sans-serif" font-weight="bold">-50</text>
<text x="291.64" y="1033.55" font-size="30.8" font-family="Liberation Sans, Arial, sans-serif" font-weight="bold">0</text>
<text x="274.54" y="990.70" font-size="30.8" font-family="Liberation Sans, Arial, sans-serif" font-weight="bold">50</text>
<text x="257.45" y="947.85" font-size="30.8" font-family="Liberation Sans, Arial, sans-serif" font-weight="bold">100</text>
<text x="257.45" y="905.00" font-size="30.8" font-family="Liberation Sans, Arial, sans-serif" font-weight="bold">150</text>
<text x="257.45" y="862.15" font-size="30.8" font-family="Liberation Sans, Arial, sans-serif" font-weight="bold">200</text>
<text x="257.45" y="819.30" font-size="30.8" font-family="Liberation Sans, Arial, sans-serif" font-weight="bold">250</text>
<text x="318.18" y="1100.20" font-size="30.8" font-family="Liberation Sans, Arial, sans-serif" font-weight="bold">20</text>
<text x="361.10" y="1100.20" font-size="30.8" font-family="Liberation Sans, Arial, sans-serif" font-weight="bold">25</text>
<text x="404.64" y="1100.20" font-size="30.8" font-family="Liberation Sans, Arial, sans-serif" font-weight="bold">30</text>
<text x="447.56" y="1100.20" font-size="30.8" font-family="Liberation Sans, Arial, sans-serif" font-weight="bold">35</text>
<text x="491.09" y="1100.20" font-size="30.8" font-family="Liberation Sans, Arial, sans-serif" font-weight="bold">40</text>
<text x="534.01" y="1100.20" font-size="30.8" font-family="Liberation Sans, Arial, sans-serif" font-weight="bold">45</text>
<text x="577.16" y="1100.20" font-size="30.8" font-family="Liberation Sans, Arial, sans-serif" font-weight="bold">50</text>
<text x="620.08" y="1100.20" font-size="30.8" font-family="Liberation Sans, Arial, sans-serif" font-weight="bold">55</text>
<text x="663.38" y="1100.20" font-size="30.8" font-family="Liberation Sans, Arial, sans-serif" font-weight="bold">60</text>
<polyline points="335.5,945.7 335.8,932.7 336.1,927.6 336.4,939.9 336.7,946.6 337.0,936.3 337.3,931.9 337.6,926.8 337.9,945.6 338.2,946.3 338.5,930.0 338.8,931.9 339.1,923.3 339.4,927.7 339.7,936.6 340.0,938.0 340.3,914.8 340.6,938.1 340.9,942.1 341.2,945.0 341.5,935.0 341.8,934.6 342.1,938.5 342.4,936.2 342.7,933.5 343.0,930.1 343.3,926.8 343.6,934.0 343.9,950.3 344.2,930.0 344.5,947.3 344.8,937.1 345.1,947.7 345.4,935.7 345.7,942.1 346.0,934.0 346.3,908.9 346.6,936.1 346.9,928.9 347.2,946.5 347.5,938.1 347.8,930.3 348.1,936.5 348.4,932.7 348.7,934.9 349.0,943.9 349.3,931.1 349.6,942.3 349.9,920.5 350.2,939.8 350.5,930.1 350.8,935.7 351.1,928.0 351.4,940.6 351.7,927.6 352.0,936.7 352.3,925.4 352.6,930.6 352.9,934.6 353.2,942.1 353.5,929.5 353.8,931.9 354.1,922.4 354.4,938.8 354.7,931.2 355.0,931.6 355.3,933.4 355.6,934.0 355.9,934.2 356.2,940.6 356.5,944.0 356.8,939.0 357.1,930.9 357.4,923.4 357.7,927.8 358.0,927.1 358.3,929.4 358.6,930.0 358.9,934.2 359.2,929.4 359.5,921.3 359.8,938.4 360.1,941.4 360.4,919.8 360.7,933.7 361.0,927.8 361.3,928.6 361.6,945.0 361.9,915.9 362.2,921.3 362.5,934.3 362.8,929.6 363.1,934.7 363.4,942.9 363.7,936.6 364.0,932.7 364.3,926.6 364.6,929.9 364.9,935.2 365.2,924.7 365.5,941.9 365.8,929.3 366.1,926.7 366.4,938.1 366.7,950.3 367.0,943.1 367.3,933.8 367.6,931.4 367.9,923.1 368.2,943.9 368.5,935.7 368.8,930.4 369.1,937.0 369.4,955.0 369.7,929.1 370.0,916.9 370.3,927.5 370.6,943.2 370.9,939.1 371.2,933.9 371.5,915.4 371.8,930.7 372.1,934.8 372.4,923.0 372.7,936.4 373.0,920.5 373.3,941.3 373.6,939.6 373.9,929.8 374.2,924.1 374.5,930.4 374.8,933.2 375.1,950.5 375.4,941.5 375.7,940.7 376.0,940.0 376.3,930.9 376.6,938.4 376.9,929.3 377.2,935.0 377.5,938.4 377.8,934.7 378.1,932.2 378.4,928.7 378.7,939.6 379.0,937.6 379.3,946.8 379.6,922.6 379.9,923.8 380.2,937.1 380.5,939.6 380.8,945.7 381.1,934.3 381.4,934.0 381.7,917.9 382.0,933.7 382.3,942.0 382.6,955.6 382.9,924.2 383.2,934.1 383.5,948.8 383.8,934.2 384.1,948.7 384.4,907.3 384.7,926.5 385.0,931.0 385.3,937.1 385.6,953.1 385.9,936.7 386.2,948.3 386.5,930.8 386.8,953.0 387.1,943.0 387.4,925.7 387.7,922.2 388.0,945.2 388.3,948.1 388.6,928.5 388.9,928.7 389.2,943.6 389.5,941.3 389.8,941.3 390.1,945.3 390.4,941.1 390.7,925.4 391.0,930.0 391.3,918.9 391.6,936.3 391.9,936.7 392.2,943.6 392.5,936.6 392.8,946.3 393.1,950.0 393.4,929.9 393.7,923.8 394.0,928.8 394.3,924.7 394.6,933.5 394.9,941.4 395.2,934.9 395.5,938.6 395.8,944.6 396.1,949.3 396.4,947.6 396.7,935.6 397.0,934.3 397.3,939.4 397.6,923.9 397.9,934.1 398.2,930.8 398.5,925.6 398.8,942.2 399.1,951.5 399.4,929.4 399.7,941.1 400.0,924.8 400.3,932.7 400.6,927.3 400.9,929.2 401.2,952.4 401.5,929.6 401.8,940.9 402.1,941.6 402.4,939.0 402.7,929.2 403.0,928.2 403.3,927.2 403.6,948.9 403.9,940.2 404.2,954.7 404.5,936.2 404.8,930.5 405.1,941.6 405.4,933.4 405.7,933.5 406.0,927.1 406.3,942.0 406.6,942.1 406.9,941.5 407.2,921.0 407.5,926.4 407.8,936.3 408.1,933.4 408.4,934.3 408.7,933.6 409.0,936.9 409.3,937.9 409.6,945.4 409.9,940.4 410.2,921.7 410.5,930.7 410.8,934.6 411.1,936.8 411.4,934.5 411.7,932.1 412.0,940.2 412.3,933.4 412.6,933.0 412.9,941.0 413.2,941.3 413.5,943.0 413.8,943.5 414.1,927.5 414.4,953.9 414.7,936.9 415.0,939.6 415.3,939.6 415.6,933.8 415.9,925.3 416.2,933.8 416.5,935.5 416.8,939.3 417.1,935.3 417.4,926.8 417.7,937.3 418.0,943.4 418.3,944.2 418.6,942.8 418.9,945.0 419.2,924.7 419.5,930.6 419.8,935.3 420.1,921.3 420.4,938.4 420.7,926.7 421.0,926.1 421.3,945.0 421.6,944.9 422.0,939.5 422.3,924.2 422.6,920.7 422.9,940.9 423.2,921.9 423.5,933.1 423.8,932.7 424.1,933.4 424.4,930.8 424.7,942.2 425.0,934.7 425.3,935.6 425.6,920.4 425.9,906.1 426.2,899.4 426.5,922.8 426.8,932.4 427.1,919.9 427.4,922.4 427.7,896.9 428.0,906.9 428.3,916.4 428.6,895.5 428.9,905.5 429.2,923.6 429.5,915.8 429.8,914.9 430.1,914.5 430.4,915.4 430.7,921.0 431.0,918.4 431.3,926.3 431.6,930.2 431.9,911.8 432.2,922.4 432.5,922.7 432.8,940.1 433.1,929.3 433.4,921.9 433.7,939.7 434.0,920.7 434.3,933.3 434.6,927.2 434.9,931.9 435.2,929.4 435.5,921.6 435.8,935.0 436.1,919.2 436.4,938.4 436.7,939.8 437.0,926.6 437.3,941.2 437.6,935.6 437.9,925.3 438.2,922.9 438.5,947.3 438.8,928.8 439.1,917.6 439.4,923.3 439.7,934.9 440.0,937.9 440.3,935.4 440.6,942.4 440.9,935.1 441.2,934.4 441.5,934.0 441.8,923.1 442.1,934.5 442.4,944.4 442.7,923.9 443.0,941.0 443.3,935.7 443.6,933.0 443.9,934.4 444.2,939.5 444.5,933.0 444.8,912.8 445.1,935.0 445.4,930.6 445.7,919.7 446.0,921.8 446.3,920.6 446.6,918.3 446.9,939.4 447.2,927.8 447.5,916.0 447.8,907.4 448.1,892.0 448.4,883.5 448.7,863.3 449.0,827.1 449.3,814.1 449.6,844.1 449.9,865.4 450.2,886.8 450.5,896.6 450.8,899.4 451.1,885.0 451.4,885.3 451.7,890.2 452.0,894.8 452.3,899.0 452.6,909.7 452.9,908.0 453.2,925.2 453.5,921.1 453.8,927.7 454.1,917.8 454.4,930.0 454.7,927.5 455.0,924.6 455.3,917.8 455.6,936.0 455.9,938.0 456.2,924.3 456.5,940.5 456.8,928.3 457.1,937.1 457.4,933.7 457.7,948.0 458.0,927.8 458.3,938.0 458.6,941.5 458.9,917.6 459.2,929.0 459.5,906.5 459.8,932.0 460.1,938.3 460.4,934.9 460.7,922.9 461.0,936.4 461.3,932.8 461.6,932.5 461.9,944.2 462.2,936.0 462.5,941.3 462.8,947.6 463.1,930.6 463.4,932.4 463.7,937.4 464.0,945.5 464.3,954.6 464.6,934.5 464.9,939.4 465.2,952.3 465.5,939.3 465.8,951.2 466.1,939.2 466.4,937.9 466.7,936.2 467.0,937.4 467.3,937.7 467.6,948.4 467.9,942.2 468.2,943.2 468.5,941.0 468.8,936.8 469.1,933.9 469.4,925.6 469.7,959.5 470.0,935.4 470.3,940.1 470.6,920.0 470.9,930.7 471.2,951.4 471.5,934.7 471.8,942.0 472.1,929.6 472.4,945.9 472.7,938.0 473.0,938.1 473.3,937.6 473.6,941.3 473.9,951.2 474.2,932.5 474.5,928.0 474.8,936.4 475.1,943.8 475.4,933.8 475.7,930.7 476.0,936.5 476.3,935.0 476.6,923.4 476.9,943.5 477.2,938.8 477.5,949.4 477.8,939.6 478.1,939.8 478.4,941.4 478.7,939.1 479.0,919.0 479.3,934.8 479.6,934.0 479.9,915.4 480.2,933.3 480.5,946.5 480.8,929.3 481.1,939.8 481.4,919.2 481.7,942.0 482.0,936.6 482.3,944.6 482.6,931.0 482.9,939.7 483.2,932.1 483.5,934.4 483.8,936.2 484.1,923.8 484.4,923.8 484.7,930.6 485.0,938.1 485.3,939.3 485.6,928.7 485.9,911.9 486.2,934.2 486.5,936.7 486.8,936.0 487.1,939.0 487.4,938.0 487.7,932.0 488.0,919.1 488.3,930.3 488.6,934.2 488.9,942.8 489.2,928.5 489.5,930.4 489.8,939.7 490.1,938.6 490.4,930.5 490.7,922.4 491.0,925.4 491.3,928.6 491.6,932.7 491.9,927.8 492.2,930.4 492.5,913.7 492.8,939.0 493.1,933.2 493.4,920.8 493.7,932.6 494.0,919.8 494.3,931.0 494.6,929.7 494.9,933.6 495.2,941.3 495.5,938.3 495.8,914.5 496.1,926.4 496.4,926.8 496.7,924.3 497.0,927.3 497.3,924.1 497.6,933.7 497.9,933.5 498.2,924.8 498.5,934.7 498.8,942.0 499.1,934.0 499.4,936.5 499.7,928.2 500.0,938.0 500.3,940.6 500.6,935.4 500.9,922.0 501.2,933.6 501.5,932.3 501.8,933.5 502.1,931.6 502.4,927.2 502.7,924.1 503.0,945.6 503.3,924.6 503.6,934.3 503.9,936.6 504.2,917.9 504.5,935.8 504.8,921.4 505.1,928.2 505.4,942.0 505.7,931.8 506.0,930.2 506.3,936.1 506.6,951.1 506.9,937.8 507.2,936.9 507.5,943.1 507.8,923.7 508.1,937.5 508.4,938.5 508.7,938.0 509.0,941.2 509.3,941.3 509.6,935.7 509.9,934.3 510.2,939.7 510.5,937.1 510.8,945.4 511.1,933.3 511.4,941.4 511.7,935.4 512.0,942.5 512.3,940.1 512.6,935.6 512.9,944.5 513.2,921.9 513.5,937.3 513.8,937.6 514.1,941.6 514.4,927.6 514.7,929.0 515.0,935.5 515.3,945.5 515.6,940.4 515.9,933.8 516.2,940.5 516.5,944.4 516.8,944.4 517.1,942.0 517.4,937.5 517.7,941.4 518.0,937.6 518.3,921.8 518.6,927.7 518.9,943.6 519.2,935.9 519.5,937.3 519.8,938.6 520.1,932.1 520.4,939.7 520.7,939.7 521.0,940.0 521.3,938.5 521.6,931.0 521.9,933.8 522.2,945.2 522.5,940.4 522.8,942.3 523.1,933.8 523.4,936.9 523.7,933.4 524.0,938.5 524.3,948.1 524.6,935.8 524.9,937.0 525.2,935.6 525.5,944.9 525.8,937.8 526.1,941.8 526.4,941.8 526.7,936.5 527.0,936.5 527.3,942.8 527.6,946.9 527.9,950.7 528.2,941.2 528.5,932.8 528.8,938.7 529.1,949.5 529.4,942.7 529.7,936.4 530.0,930.3 530.3,932.8 530.6,936.7 530.9,937.5 531.2,943.6 531.5,940.7 531.8,940.1 532.1,942.3 532.4,938.3 532.7,940.4 533.0,937.0 533.3,931.8 533.6,935.1 533.9,936.6 534.2,939.8 534.5,945.8 534.8,939.2 535.1,936.1 535.4,943.4 535.7,932.8 536.0,940.2 536.3,937.0 536.6,940.2 536.9,944.5 537.2,929.2 537.5,944.1 537.8,934.5 538.1,941.3 538.4,937.5 538.7,942.5 539.0,940.7 539.3,934.6 539.6,930.0 539.9,942.6 540.2,938.8 540.5,934.5 540.8,941.7 541.1,935.6 541.4,942.4 541.7,936.1 542.0,936.9 542.3,933.4 542.6,937.2 542.9,944.2 543.2,935.9 543.5,943.8 543.8,935.5 544.1,932.2 544.4,936.3 544.7,941.4 545.0,933.6 545.3,938.2 545.6,944.4 545.9,940.5 546.2,932.7 546.5,940.3 546.8,938.4 547.1,940.5 547.4,946.4 547.7,941.2 548.0,937.4 548.3,938.1 548.6,939.7 548.9,948.4 549.2,933.6 549.5,935.8 549.8,934.5 550.1,933.3 550.4,941.0 550.7,941.7 551.0,937.6 551.3,931.7 551.6,946.4 551.9,940.0 552.2,942.1 552.5,936.6 552.8,932.6 553.1,940.3 553.4,944.4 553.7,938.8 554.0,940.3 554.3,945.8 554.6,935.2 554.9,941.3 555.2,936.1 555.5,944.8 555.8,934.3 556.1,945.3 556.4,934.5 556.7,946.9 557.0,933.1 557.3,940.7 557.6,945.8 557.9,940.1 558.2,937.6 558.5,943.4 558.8,941.2 559.1,937.9 559.4,939.8 559.7,952.3 560.0,941.0 560.3,937.2 560.6,937.8 560.9,934.7 561.2,942.1 561.5,928.1 561.8,935.6 562.1,937.8 562.4,934.4 562.7,935.0 563.0,938.7 563.3,941.8 563.6,934.7 563.9,937.3 564.2,947.3 564.5,943.9 564.8,937.1 565.1,938.7 565.4,937.9 565.7,936.4 566.0,938.5 566.3,932.3 566.6,941.7 566.9,940.8 567.2,937.7 567.5,935.9 567.8,935.7 568.1,932.7 568.4,941.2 568.7,934.1 569.0,937.1 569.3,943.6 569.6,939.7 569.9,930.2 570.2,935.8 570.5,941.2 570.8,949.5 571.1,942.3 571.4,942.2 571.7,938.8 572.0,929.2 572.3,935.9 572.6,937.8 572.9,943.2 573.2,944.2 573.5,940.0 573.8,941.2 574.1,926.2 574.4,940.9 574.7,941.8 575.0,934.3 575.3,938.8 575.6,944.5 575.9,933.6 576.2,940.5 576.5,944.9 576.8,937.8 577.1,937.1 577.4,940.6 577.7,936.2 578.0,935.6 578.3,942.9 578.6,948.0 578.9,949.4 579.2,939.7 579.5,933.9 579.8,934.9 580.1,933.2 580.4,931.2 580.7,939.1 581.0,934.6 581.3,945.7 581.6,936.2 581.9,937.5 582.2,939.6 582.5,941.1 582.8,943.9 583.1,938.6 583.4,933.7 583.7,940.7 584.0,936.9 584.3,942.0 584.6,938.1 584.9,943.5 585.2,937.5 585.5,940.1 585.8,937.8 586.1,941.8 586.4,944.2 586.7,940.6 587.0,934.7 587.3,932.4 587.6,940.5 587.9,935.7 588.2,935.9 588.5,937.5 588.8,945.8 589.1,937.8 589.4,943.3 589.7,934.1 590.0,935.8 590.3,936.5 590.6,950.0 590.9,936.5 591.2,936.1 591.5,944.6 591.8,935.0 592.1,938.8 592.4,939.9 592.7,942.2 593.0,943.5 593.3,941.0 593.6,925.9 593.9,938.2 594.2,938.2 594.6,941.9 594.9,941.7 595.2,941.5 595.5,942.9 595.8,935.3 596.1,940.2 596.4,935.3 596.7,944.0 597.0,935.1 597.3,939.1 597.6,936.2 597.9,939.4 598.2,942.8 598.5,933.8 598.8,940.8 599.1,939.5 599.4,942.7 599.7,938.0 600.0,940.5 600.3,937.5 600.6,937.2 600.9,941.6 601.2,944.6 601.5,936.5 601.8,934.3 602.1,935.0 602.4,942.7 602.7,934.8 603.0,935.1 603.3,934.7 603.6,932.7 603.9,933.6 604.2,927.5 604.5,919.4 604.8,914.4 605.1,929.5 605.4,928.9 605.7,931.4 606.0,942.4 606.3,938.8 606.6,934.2 606.9,938.0 607.2,937.4 607.5,943.4 607.8,934.4 608.1,930.9 608.4,939.4 608.7,941.8 609.0,943.7 609.3,934.9 609.6,938.4 609.9,942.3 610.2,933.7 610.5,935.6 610.8,936.4 611.1,946.5 611.4,939.4 611.7,936.3 612.0,944.3 612.3,935.0 612.6,932.9 612.9,934.6 613.2,942.2 613.5,942.1 613.8,935.0 614.1,934.8 614.4,933.8 614.7,933.9 615.0,939.5 615.3,940.9 615.6,947.1 615.9,935.8 616.2,929.4 616.5,941.1 616.8,941.2 617.1,936.3 617.4,937.5 617.7,945.0 618.0,942.2 618.3,943.8 618.6,930.5 618.9,942.2 619.2,935.5 619.5,930.9 619.8,931.0 620.1,933.0 620.4,932.2 620.7,944.4 621.0,940.6 621.3,942.3 621.6,940.4 621.9,927.9 622.2,946.3 622.5,936.8 622.8,944.5 623.1,933.4 623.4,933.6 623.7,941.3 624.0,930.3 624.3,938.8 624.6,933.6 624.9,937.8 625.2,941.6 625.5,940.8 625.8,939.7 626.1,936.5 626.4,938.6 626.7,929.0 627.0,940.0 627.3,941.2 627.6,942.2 627.9,942.5 628.2,945.3 628.5,943.4 628.8,935.3 629.1,938.9 629.4,939.9 629.7,937.7 630.0,934.6 630.3,936.5 630.6,935.8 630.9,941.6 631.2,940.3 631.5,942.5 631.8,939.6 632.1,942.7 632.4,940.7 632.7,939.9 633.0,940.1 633.3,940.3 633.6,941.3 633.9,933.5 634.2,940.6 634.5,943.5 634.8,938.3 635.1,943.8 635.4,943.7 635.7,938.8 636.0,946.3 636.3,952.9 636.6,937.9 636.9,934.7 637.2,946.3 637.5,943.0 637.8,936.7 638.1,947.6 638.4,942.9 638.7,944.3 639.0,940.0 639.3,947.6 639.6,935.3 639.9,939.7 640.2,937.8 640.5,940.5 640.8,948.2 641.1,939.7 641.4,944.8 641.7,939.0 642.0,942.7 642.3,940.4 642.6,939.9 642.9,935.7 643.2,935.7 643.5,943.3 643.8,939.0 644.1,932.7 644.4,936.8 644.7,942.0 645.0,939.4 645.3,940.3 645.6,934.7 645.9,938.6 646.2,937.0 646.5,929.1 646.8,944.4 647.1,942.7 647.4,945.6 647.7,944.8 648.0,934.0 648.3,936.0 648.6,929.6 648.9,944.2 649.2,938.1 649.5,925.9 649.8,924.0 650.1,919.0 650.4,911.8 650.7,918.3 651.0,924.4 651.3,929.4 651.6,929.2 651.9,935.5 652.2,934.6 652.5,930.6 652.8,942.2 653.1,940.9 653.4,935.6 653.7,939.3 654.0,939.0 654.3,929.5 654.6,936.8 654.9,940.4 655.2,934.0 655.5,928.0 655.8,943.6 656.1,941.7 656.4,938.4 656.7,941.6 657.0,929.6 657.3,936.7 657.6,940.7 657.9,936.9 658.2,942.4 658.5,941.6 658.8,938.6 659.1,928.8 659.4,948.7 659.7,937.3 660.0,933.3 660.3,935.9 660.6,930.9 660.9,937.2 661.2,938.5 661.5,939.7 661.8,942.8 662.1,932.1 662.4,944.2 662.7,939.7 663.0,941.4 663.3,942.5 663.6,948.7 663.9,940.8 664.2,938.6 664.5,938.5 664.8,935.5 665.1,939.8 665.4,941.9 665.7,937.8 666.0,936.3 666.3,943.0 666.6,945.7 666.9,943.6 667.2,934.6 667.5,934.9 667.8,943.0 668.1,938.7 668.4,935.6 668.7,933.5 669.0,942.0 669.3,940.2 669.6,933.1 669.9,928.8 670.2,932.6 670.5,944.1 670.8,937.2 671.1,940.5 671.4,939.4 671.7,942.0 672.0,941.2 672.3,939.2 672.6,931.5 672.9,936.2 673.2,937.3 673.5,939.1 673.8,942.4 674.1,940.2 674.4,933.9 674.7,935.6 675.0,930.8 675.3,938.1 675.6,939.3 675.9,946.1 676.2,937.5 676.5,946.6 676.8,932.6 677.1,941.9 677.4,939.2 677.7,945.0 678.0,941.3 678.3,943.2 678.6,934.3 678.9,938.1 679.2,944.2 679.5,947.5 679.8,939.5 680.1,941.3 680.4,943.9 680.7,936.7" fill="none" stroke="#ff0000" stroke-width="1.6" stroke-linejoin="round"/>
<polyline points="335.5,1019.5 335.8,1017.1 336.0,1022.8 336.3,1022.7 336.5,1021.8 336.8,1031.1 337.0,1012.9 337.3,1014.8 337.5,1032.1 337.8,1017.2 338.1,1008.6 338.3,1016.1 338.6,1007.5 338.8,1020.2 339.1,1018.0 339.3,1028.6 339.6,1025.4 339.8,1032.9 340.1,1025.3 340.4,1016.0 340.6,1013.8 340.9,1008.6 341.1,1017.0 341.4,1026.1 341.6,1014.5 341.9,1019.2 342.1,1003.5 342.4,1002.1 342.7,1010.2 342.9,1027.3 343.2,1022.3 343.4,1016.5 343.7,1023.8 343.9,1013.8 344.2,1012.5 344.4,1011.2 344.7,1016.2 345.0,1025.2 345.2,1024.9 345.5,1019.0 345.7,1007.2 346.0,1005.2 346.2,1010.1 346.5,1015.1 346.8,1012.5 347.0,1011.3 347.3,1007.5 347.5,1011.1 347.8,1030.5 348.0,1010.3 348.3,1014.9 348.5,1021.8 348.8,1013.8 349.1,1015.7 349.3,1018.5 349.6,1031.8 349.8,1017.1 350.1,1013.5 350.3,1018.4 350.6,1031.0 350.8,1014.3 351.1,1012.2 351.4,1016.6 351.6,1014.6 351.9,1020.9 352.1,1023.4 352.4,1013.8 352.6,1020.9 352.9,1016.6 353.1,991.5 353.4,1012.2 353.7,1016.9 353.9,1031.2 354.2,1017.2 354.4,1011.9 354.7,1023.8 354.9,1020.0 355.2,1036.4 355.4,1013.5 355.7,1022.9 356.0,1012.5 356.2,1006.9 356.5,1019.3 356.7,1010.0 357.0,1016.0 357.2,1019.7 357.5,1020.3 357.7,1025.0 358.0,1007.6 358.3,1010.9 358.5,1026.2 358.8,1011.2 359.0,1024.0 359.3,1030.3 359.5,1008.3 359.8,1028.4 360.0,1008.4 360.3,1016.4 360.6,1010.7 360.8,1013.9 361.1,1008.6 361.3,1015.2 361.6,1013.3 361.8,1016.0 362.1,1009.1 362.3,1021.2 362.6,1009.8 362.9,1005.8 363.1,1018.5 363.4,1014.4 363.6,1022.2 363.9,1020.4 364.1,1015.9 364.4,1020.8 364.7,1025.2 364.9,1018.3 365.2,1016.5 365.4,1015.4 365.7,1012.2 365.9,1032.5 366.2,1006.5 366.4,1019.4 366.7,1024.3 367.0,1021.1 367.2,1014.4 367.5,1010.9 367.7,1021.0 368.0,1016.7 368.2,1031.0 368.5,1016.6 368.7,1018.9 369.0,1021.5 369.3,1010.8 369.5,1003.4 369.8,1009.6 370.0,1024.4 370.3,1005.6 370.5,1020.7 370.8,1018.4 371.0,1022.7 371.3,1014.3 371.6,1013.5 371.8,1016.8 372.1,1019.7 372.3,1019.2 372.6,1021.3 372.8,1010.1 373.1,1022.3 373.3,1019.2 373.6,1019.7 373.9,1024.1 374.1,1019.9 374.4,1029.9 374.6,1014.7 374.9,1013.6 375.1,1020.5 375.4,1005.4 375.6,1024.7 375.9,1013.5 376.2,1014.1 376.4,1022.4 376.7,1020.0 376.9,1010.8 377.2,1017.5 377.4,1015.7 377.7,1006.7 377.9,1016.3 378.2,1031.6 378.5,1024.0 378.7,1011.3 379.0,1019.1 379.2,1026.8 379.5,1034.0 379.7,1015.4 380.0,1005.9 380.2,1028.2 380.5,1035.6 380.8,1014.0 381.0,1022.4 381.3,1020.4 381.5,1020.6 381.8,1025.3 382.0,1014.5 382.3,1010.6 382.5,1015.1 382.8,1022.5 383.1,1009.6 383.3,1018.9 383.6,1013.3 383.8,1025.6 384.1,1012.7 384.3,1012.0 384.6,1007.6 384.9,1017.8 385.1,1014.4 385.4,1022.7 385.6,1010.9 385.9,1011.7 386.1,1009.3 386.4,1021.1 386.6,1027.9 386.9,1018.6 387.2,1019.7 387.4,1024.0 387.7,1013.1 387.9,1010.4 388.2,1014.8 388.4,1009.0 388.7,1014.8 388.9,1025.9 389.2,1022.7 389.5,1020.9 389.7,1012.5 390.0,1010.6 390.2,1016.9 390.5,1009.8 390.7,1024.6 391.0,1018.9 391.2,1006.0 391.5,1014.4 391.8,1009.6 392.0,1033.2 392.3,1031.4 392.5,1024.9 392.8,1009.9 393.0,1004.9 393.3,1023.0 393.5,1025.9 393.8,1026.1 394.1,1025.2 394.3,1013.5 394.6,1020.5 394.8,1002.9 395.1,1012.2 395.3,1023.5 395.6,1016.1 395.8,1019.2 396.1,1011.6 396.4,1010.7 396.6,1020.8 396.9,1010.8 397.1,1013.4 397.4,1018.7 397.6,1015.9 397.9,1012.5 398.1,1020.5 398.4,1023.4 398.7,1007.8 398.9,1017.9 399.2,1022.7 399.4,1014.3 399.7,1029.8 399.9,1017.5 400.2,1028.9 400.4,1021.4 400.7,1032.2 401.0,1023.7 401.2,1010.8 401.5,1019.4 401.7,1027.7 402.0,1004.0 402.2,1023.0 402.5,1006.1 402.8,1022.2 403.0,1029.7 403.3,1003.2 403.5,1021.4 403.8,1011.9 404.0,1008.4 404.3,1028.5 404.5,1017.4 404.8,1022.5 405.1,1013.1 405.3,1018.0 405.6,1028.0 405.8,1017.5 406.1,1011.8 406.3,1020.3 406.6,1013.4 406.8,1022.2 407.1,1018.3 407.4,1015.1 407.6,1016.8 407.9,1007.8 408.1,1010.4 408.4,1011.2 408.6,1012.2 408.9,1016.7 409.1,1027.2 409.4,1009.4 409.7,1004.0 409.9,1016.1 410.2,1019.9 410.4,1018.2 410.7,1008.3 410.9,1015.6 411.2,1025.7 411.4,1019.3 411.7,1024.0 412.0,1019.5 412.2,1025.0 412.5,1024.9 412.7,1006.1 413.0,1009.5 413.2,1030.7 413.5,1025.7 413.7,1021.4 414.0,1021.0 414.3,1028.9 414.5,1010.8 414.8,1030.7 415.0,1012.3 415.3,1012.3 415.5,1020.8 415.8,1023.1 416.0,1017.4 416.3,1016.7 416.6,1034.6 416.8,1027.8 417.1,1013.6 417.3,1018.7 417.6,1021.2 417.8,1025.8 418.1,1023.5 418.3,1023.9 418.6,995.6 418.9,1027.8 419.1,1005.6 419.4,1014.0 419.6,1016.1 419.9,1016.3 420.1,1020.9 420.4,1005.0 420.6,1013.8 420.9,1018.1 421.2,1018.8 421.4,1016.2 421.7,1026.9 421.9,1020.4 422.2,1022.8 422.4,1012.9 422.7,1013.0 423.0,1032.7 423.2,1019.6 423.5,1009.9 423.7,1028.1 424.0,1027.2 424.2,1009.8 424.5,1018.8 424.7,1021.4 425.0,1027.5 425.3,1016.4 425.5,1022.2 425.8,1016.1 426.0,1014.4 426.3,1012.2 426.5,1020.3 426.8,1021.9 427.0,1017.5 427.3,1018.5 427.6,1016.4 427.8,1022.0 428.1,1019.6 428.3,1022.4 428.6,1022.4 428.8,1016.5 429.1,1008.5 429.3,1022.0 429.6,1013.1 429.9,1014.9 430.1,1016.8 430.4,1012.3 430.6,1022.1 430.9,1013.2 431.1,1015.3 431.4,1045.4 431.6,1014.8 431.9,1012.9 432.2,1002.1 432.4,1026.1 432.7,1016.8 432.9,1014.8 433.2,1025.3 433.4,1008.0 433.7,1014.0 433.9,1023.9 434.2,1027.1 434.5,1020.9 434.7,998.6 435.0,1000.3 435.2,1037.2 435.5,1032.0 435.7,1012.1 436.0,1018.3 436.2,1022.5 436.5,1012.6 436.8,1016.6 437.0,1015.1 437.3,1015.2 437.5,1026.0 437.8,1006.8 438.0,1021.0 438.3,1008.2 438.5,1011.7 438.8,1016.9 439.1,1016.1 439.3,1017.5 439.6,1031.8 439.8,1019.7 440.1,1013.6 440.3,1029.9 440.6,1028.9 440.8,1008.3 441.1,1010.5 441.4,1029.2 441.6,1013.1 441.9,1017.2 442.1,1008.9 442.4,1019.2 442.6,1018.4 442.9,1022.5 443.2,1015.0 443.4,1017.4 443.7,1021.5 443.9,1019.0 444.2,1022.1 444.4,1011.0 444.7,1024.1 444.9,1028.2 445.2,1023.3 445.5,1006.8 445.7,1019.4 446.0,1010.0 446.2,1009.1 446.5,1018.8 446.7,1008.5 447.0,1010.2 447.2,1014.4 447.5,1019.3 447.8,1013.9 448.0,1023.3 448.3,1014.8 448.5,1016.8 448.8,1008.1 449.0,1008.3 449.3,1015.5 449.5,1002.8 449.8,999.4 450.1,1007.6 450.3,989.8 450.6,1002.1 450.8,1024.6 451.1,1008.6 451.3,998.1 451.6,985.7 451.8,1006.6 452.1,987.5 452.4,980.4 452.6,983.5 452.9,1017.4 453.1,989.8 453.4,997.6 453.6,991.7 453.9,1002.2 454.1,983.8 454.4,1004.8 454.7,992.1 454.9,998.6 455.2,1008.8 455.4,1004.4 455.7,1001.5 455.9,1004.8 456.2,1010.6 456.4,1016.2 456.7,1017.6 457.0,1015.8 457.2,1017.3 457.5,1026.1 457.7,1025.2 458.0,1007.3 458.2,1023.7 458.5,1025.7 458.7,1015.8 459.0,1004.2 459.3,1006.0 459.5,1019.8 459.8,1025.1 460.0,1021.3 460.3,1024.6 460.5,1022.0 460.8,1013.9 461.1,1026.6 461.3,1024.5 461.6,1020.6 461.8,1018.9 462.1,1025.1 462.3,1025.5 462.6,1028.4 462.8,1025.5 463.1,1015.5 463.4,1021.8 463.6,1045.0 463.9,1015.2 464.1,1020.9 464.4,1027.5 464.6,1022.6 464.9,1045.1 465.1,1034.1 465.4,1011.5 465.7,1003.8 465.9,1003.5 466.2,1027.1 466.4,1020.9 466.7,1015.0 466.9,1031.2 467.2,1007.3 467.4,1027.2 467.7,1018.5 468.0,1030.6 468.2,1018.4 468.5,1021.4 468.7,1012.5 469.0,1030.5 469.2,1021.2 469.5,1006.4 469.7,1030.6 470.0,1018.1 470.3,1017.3 470.5,1024.7 470.8,1022.7 471.0,1009.1 471.3,1011.1 471.5,1015.6 471.8,1017.9 472.0,1029.0 472.3,1019.0 472.6,1005.1 472.8,1010.9 473.1,1030.2 473.3,1035.8 473.6,1024.3 473.8,1017.4 474.1,1023.0 474.3,1020.9 474.6,1015.5 474.9,1010.9 475.1,1016.2 475.4,1007.7 475.6,1029.0 475.9,1013.7 476.1,1013.9 476.4,1029.1 476.6,1006.9 476.9,1029.6 477.2,1028.3 477.4,995.1 477.7,1006.0 477.9,1013.2 478.2,1005.2 478.4,1006.7 478.7,1024.9 478.9,1011.8 479.2,1004.3 479.5,1016.7 479.7,1014.7 480.0,1018.9 480.2,1009.2 480.5,1019.4 480.7,1019.5 481.0,1024.5 481.3,1022.0 481.5,1012.8 481.8,1010.6 482.0,1017.4 482.3,1022.6 482.5,1011.4 482.8,1011.2 483.0,1003.8 483.3,1017.8 483.6,1017.0 483.8,1009.6 484.1,1001.4 484.3,1013.9 484.6,1014.0 484.8,1020.8 485.1,1016.2 485.3,1005.7 485.6,1006.4 485.9,1004.2 486.1,1025.9 486.4,1006.3 486.6,1020.2 486.9,1008.1 487.1,1031.4 487.4,1013.5 487.6,1019.6 487.9,1002.6 488.2,1011.6 488.4,1002.4 488.7,1016.0 488.9,997.1 489.2,1016.0 489.4,997.6 489.7,1016.3 489.9,1020.1 490.2,1005.5 490.5,1015.6 490.7,1012.9 491.0,1022.9 491.2,1015.2 491.5,1011.6 491.7,1018.0 492.0,1009.5 492.2,1030.4 492.5,1005.7 492.8,1015.8 493.0,1001.4 493.3,1015.5 493.5,1017.9 493.8,1016.3 494.0,1010.8 494.3,1008.4 494.5,1016.6 494.8,1019.2 495.1,1009.9 495.3,1007.0 495.6,1026.6 495.8,1021.4 496.1,1018.6 496.3,1000.7 496.6,1004.4 496.8,1007.8 497.1,1010.2 497.4,1022.4 497.6,1005.7 497.9,1017.5 498.1,1020.2 498.4,1000.0 498.6,1025.2 498.9,1004.3 499.2,1013.2 499.4,1021.6 499.7,1013.6 499.9,1021.2 500.2,1013.8 500.4,1019.9 500.7,1024.0 500.9,996.1 501.2,1019.2 501.5,1008.5 501.7,1016.1 502.0,1011.0 502.2,1025.1 502.5,1023.6 502.7,1039.6 503.0,1009.2 503.2,1013.3 503.5,1024.9 503.8,1010.7 504.0,1012.6 504.3,996.3 504.5,1015.3 504.8,1010.6 505.0,1012.9 505.3,1011.9 505.5,1017.5 505.8,1020.3 506.1,1012.6 506.3,1009.1 506.6,1025.6 506.8,1025.5 507.1,1018.1 507.3,1005.7 507.6,1019.4 507.8,1029.5 508.1,1012.7 508.4,1013.2 508.6,1005.4 508.9,1017.1 509.1,1005.4 509.4,1023.2 509.6,1012.6 509.9,1017.7 510.1,1026.4 510.4,1020.5 510.7,1010.2 510.9,1011.7 511.2,1021.3 511.4,1011.9 511.7,1013.3 511.9,1013.4 512.2,1017.3 512.4,1017.3 512.7,1024.4 513.0,1019.7 513.2,1018.5 513.5,1023.9 513.7,1021.2 514.0,1018.4 514.2,1018.2 514.5,1013.1 514.7,1025.8 515.0,1022.0 515.3,1018.0 515.5,1021.9 515.8,1017.7 516.0,1022.5 516.3,1012.8 516.5,1021.1 516.8,1026.5 517.0,1015.4 517.3,1010.2 517.6,1031.1 517.8,1020.7 518.1,1019.5 518.3,1014.0 518.6,1011.4 518.8,1020.9 519.1,1028.9 519.4,1016.3 519.6,1014.4 519.9,1017.5 520.1,1019.7 520.4,1024.7 520.6,1006.6 520.9,1026.8 521.1,1028.5 521.4,1014.9 521.7,1018.7 521.9,1016.6 522.2,1018.3 522.4,1011.2 522.7,1012.6 522.9,1023.3 523.2,1015.0 523.4,1026.6 523.7,1029.4 524.0,1014.0 524.2,1022.7 524.5,1031.7 524.7,1020.5 525.0,1023.9 525.2,1017.8 525.5,1020.8 525.7,1024.5 526.0,1024.2 526.3,1016.6 526.5,1025.3 526.8,1019.9 527.0,1025.6 527.3,1018.3 527.5,1011.6 527.8,1017.7 528.0,1015.0 528.3,1018.4 528.6,1025.5 528.8,1022.2 529.1,1020.3 529.3,1018.5 529.6,1023.7 529.8,1017.7 530.1,1024.3 530.3,1020.4 530.6,1020.8 530.9,1026.4 531.1,1015.9 531.4,1020.5 531.6,1020.3 531.9,1020.9 532.1,1031.0 532.4,1027.6 532.6,1025.1 532.9,1016.1 533.2,1023.6 533.4,1017.9 533.7,1025.8 533.9,1024.9 534.2,1023.1 534.4,1015.9 534.7,1028.7 534.9,1021.7 535.2,1019.0 535.5,1020.3 535.7,1021.0 536.0,1017.3 536.2,1019.6 536.5,1025.7 536.7,1018.0 537.0,1024.6 537.3,1022.6 537.5,1014.3 537.8,1009.7 538.0,1014.3 538.3,1019.0 538.5,1024.6 538.8,1024.5 539.0,1013.4 539.3,1019.5 539.6,1027.4 539.8,1013.9 540.1,1018.4 540.3,1015.0 540.6,1019.2 540.8,1030.9 541.1,1024.4 541.3,1021.7 541.6,1021.9 541.9,1014.2 542.1,1024.2 542.4,1021.6 542.6,1021.4 542.9,1021.5 543.1,1025.8 543.4,1026.7 543.6,1032.8 543.9,1019.7 544.2,1022.1 544.4,1020.3 544.7,1025.9 544.9,1021.2 545.2,1025.5 545.4,1025.7 545.7,1019.7 545.9,1018.3 546.2,1018.6 546.5,1021.4 546.7,1022.9 547.0,1015.0 547.2,1015.7 547.5,1024.0 547.7,1026.1 548.0,1019.6 548.2,1019.8 548.5,1025.3 548.8,1011.1 549.0,1030.5 549.3,1024.9 549.5,1020.2 549.8,1016.9 550.0,1029.4 550.3,1023.2 550.5,1014.9 550.8,1015.1 551.1,1022.4 551.3,1021.1 551.6,1025.2 551.8,1019.5 552.1,1025.9 552.3,1030.2 552.6,1028.0 552.8,1021.0 553.1,1027.1 553.4,1016.4 553.6,1015.7 553.9,1016.9 554.1,1018.4 554.4,1016.3 554.6,1020.1 554.9,1017.5 555.1,1019.3 555.4,1017.9 555.7,1025.8 555.9,1024.2 556.2,1025.7 556.4,1017.7 556.7,1019.1 556.9,1024.8 557.2,1025.6 557.5,1023.9 557.7,1017.5 558.0,1021.8 558.2,1022.4 558.5,1024.4 558.7,1021.9 559.0,1014.4 559.2,1024.3 559.5,1022.9 559.8,1014.0 560.0,1018.2 560.3,1026.3 560.5,1016.6 560.8,1026.8 561.0,1018.9 561.3,1032.4 561.5,1025.7 561.8,1017.4 562.1,1024.0 562.3,1024.5 562.6,1021.1 562.8,1021.4 563.1,1023.4 563.3,1024.3 563.6,1013.6 563.8,1014.9 564.1,1019.9 564.4,1026.4 564.6,1023.7 564.9,1022.6 565.1,1019.3 565.4,1014.4 565.6,1023.6 565.9,1020.7 566.1,1023.2 566.4,1020.8 566.7,1024.4 566.9,1019.7 567.2,1016.4 567.4,1023.1 567.7,1022.8 567.9,1020.9 568.2,1027.1 568.4,1013.5 568.7,1027.2 569.0,1022.9 569.2,1025.2 569.5,1014.9 569.7,1023.5 570.0,1023.6 570.2,1013.2 570.5,1021.9 570.7,1024.8 571.0,1021.4 571.3,1020.6 571.5,1024.6 571.8,1022.2 572.0,1022.3 572.3,1018.3 572.5,1018.1 572.8,1017.8 573.0,1021.9 573.3,1017.9 573.6,1022.3 573.8,1016.4 574.1,1019.7 574.3,1023.2 574.6,1016.1 574.8,1027.9 575.1,1025.6 575.4,1024.9 575.6,1022.0 575.9,1026.7 576.1,1026.6 576.4,1029.6 576.6,1020.9 576.9,1024.7 577.1,1011.9 577.4,1018.1 577.7,1026.4 577.9,1015.7 578.2,1021.0 578.4,1016.8 578.7,1026.2 578.9,1016.4 579.2,1016.7 579.4,1023.2 579.7,1025.1 580.0,1023.0 580.2,1020.3 580.5,1011.0 580.7,1013.6 581.0,1014.9 581.2,1022.4 581.5,1022.8 581.7,1019.8 582.0,1022.6 582.3,1023.4 582.5,1022.3 582.8,1017.8 583.0,1021.7 583.3,1020.4 583.5,1022.5 583.8,1022.3 584.0,1022.8 584.3,1016.0 584.6,1020.4 584.8,1015.0 585.1,1022.2 585.3,1016.8 585.6,1027.4 585.8,1023.2 586.1,1021.7 586.3,1024.2 586.6,1021.9 586.9,1025.4 587.1,1022.1 587.4,1024.3 587.6,1021.4 587.9,1022.7 588.1,1025.7 588.4,1023.2 588.6,1021.3 588.9,1026.9 589.2,1021.0 589.4,1016.0 589.7,1022.4 589.9,1019.1 590.2,1018.7 590.4,1024.9 590.7,1015.7 590.9,1010.6 591.2,1025.8 591.5,1012.2 591.7,1024.5 592.0,1015.1 592.2,1029.2 592.5,1016.5 592.7,1020.8 593.0,1026.9 593.2,1025.0 593.5,1025.9 593.8,1025.3 594.0,1019.8 594.3,1022.2 594.5,1032.2 594.8,1022.8 595.0,1019.4 595.3,1021.0 595.6,1014.1 595.8,1029.3 596.1,1020.4 596.3,1021.3 596.6,1018.3 596.8,1027.2 597.1,1027.1 597.3,1022.2 597.6,1021.1 597.9,1029.2 598.1,1019.9 598.4,1021.5 598.6,1018.3 598.9,1032.7 599.1,1019.3 599.4,1025.3 599.6,1023.5 599.9,1018.1 600.2,1014.1 600.4,1020.8 600.7,1021.9 600.9,1015.8 601.2,1025.3 601.4,1022.1 601.7,1023.6 601.9,1025.7 602.2,1020.6 602.5,1012.6 602.7,1020.4 603.0,1019.3 603.2,1021.6 603.5,1016.6 603.7,1020.6 604.0,1025.2 604.2,1021.0 604.5,1015.2 604.8,1021.8 605.0,1016.3 605.3,1021.7 605.5,1012.7 605.8,1020.2 606.0,1018.6 606.3,1022.7 606.5,1017.8 606.8,1022.4 607.1,1027.8 607.3,1020.1 607.6,1026.6 607.8,1015.0 608.1,1018.0 608.3,1021.4 608.6,1018.5 608.8,1032.6 609.1,1014.8 609.4,1024.2 609.6,1018.5 609.9,1010.4 610.1,1028.4 610.4,1023.2 610.6,1019.9 610.9,1019.6 611.1,1028.7 611.4,1025.4 611.7,1015.0 611.9,1024.0 612.2,1019.0 612.4,1027.3 612.7,1025.4 612.9,1029.3 613.2,1020.3 613.4,1016.4 613.7,1021.0 614.0,1022.6 614.2,1020.4 614.5,1019.4 614.7,1022.7 615.0,1019.0 615.2,1013.0 615.5,1011.8 615.8,1023.9 616.0,1026.9 616.3,1013.2 616.5,1017.2 616.8,1016.2 617.0,1018.8 617.3,1022.4 617.5,1017.2 617.8,1016.6 618.1,1016.3 618.3,1026.1 618.6,1017.0 618.8,1022.9 619.1,1023.0 619.3,1019.9 619.6,1022.9 619.8,1011.4 620.1,1019.0 620.4,1020.3 620.6,1022.2 620.9,1020.3 621.1,1022.4 621.4,1018.9 621.6,1017.7 621.9,1017.8 622.1,1026.8 622.4,1022.8 622.7,1021.0 622.9,1026.7 623.2,1019.8 623.4,1022.0 623.7,1021.1 623.9,1019.7 624.2,1024.1 624.4,1014.7 624.7,1016.9 625.0,1023.8 625.2,1019.4 625.5,1018.2 625.7,1024.7 626.0,1022.9 626.2,1018.4 626.5,1032.5 626.7,1027.1 627.0,1020.0 627.3,1018.7 627.5,1025.4 627.8,1017.7 628.0,1011.8 628.3,1020.5 628.5,1021.6 628.8,1021.1 629.0,1025.7 629.3,1019.0 629.6,1020.6 629.8,1018.2 630.1,1015.2 630.3,1021.2 630.6,1020.6 630.8,1020.0 631.1,1013.9 631.3,1027.6 631.6,1021.4 631.9,1024.1 632.1,1020.8 632.4,1017.8 632.6,1021.0 632.9,1018.2 633.1,1020.5 633.4,1024.4 633.7,1024.2 633.9,1027.3 634.2,1020.4 634.4,1023.0 634.7,1017.7 634.9,1017.2 635.2,1025.1 635.4,1026.0 635.7,1018.7 636.0,1025.1 636.2,1020.4 636.5,1018.7 636.7,1023.0 637.0,1013.6 637.2,1024.6 637.5,1019.4 637.7,1023.0 638.0,1033.7 638.3,1022.0 638.5,1021.9 638.8,1018.7 639.0,1021.8 639.3,1024.4 639.5,1023.4 639.8,1022.5 640.0,1017.9 640.3,1022.4 640.6,1015.9 640.8,1017.5 641.1,1024.3 641.3,1016.7 641.6,1030.9 641.8,1021.0 642.1,1025.3 642.3,1021.5 642.6,1016.1 642.9,1021.0 643.1,1021.7 643.4,1015.4 643.6,1024.2 643.9,1024.4 644.1,1016.6 644.4,1018.1 644.6,1026.9 644.9,1020.0 645.2,1017.3 645.4,1021.2 645.7,1022.2 645.9,1019.8 646.2,1019.3 646.4,1023.1 646.7,1016.4 646.9,1026.6 647.2,1019.9 647.5,1010.1 647.7,1023.6 648.0,1018.9 648.2,1028.1 648.5,1021.4 648.7,1022.2 649.0,1016.3 649.2,1017.9 649.5,1007.1 649.8,1018.1 650.0,1013.6 650.3,1012.1 650.5,1010.1 650.8,1009.2 651.0,1020.4 651.3,1004.9 651.5,1016.5 651.8,1019.1 652.1,1023.8 652.3,1019.3 652.6,1025.6 652.8,1017.6 653.1,1021.4 653.3,1017.7 653.6,1022.8 653.9,1019.3 654.1,1010.3 654.4,1015.0 654.6,1019.5 654.9,1024.5 655.1,1014.1 655.4,1027.8 655.6,1026.6 655.9,1015.1 656.2,1023.3 656.4,1015.0 656.7,1018.3 656.9,1011.5 657.2,1013.2 657.4,1018.4 657.7,1023.7 657.9,1018.5 658.2,1015.0 658.5,1020.5 658.7,1033.5 659.0,1022.7 659.2,1022.7 659.5,1021.4 659.7,1022.7 660.0,1016.3 660.2,1026.6 660.5,1019.3 660.8,1029.7 661.0,1030.6 661.3,1025.6 661.5,1024.5 661.8,1025.1 662.0,1024.3 662.3,1018.6 662.5,1018.8 662.8,1020.9 663.1,1020.4 663.3,1024.3 663.6,1025.5 663.8,1027.4 664.1,1023.1 664.3,1026.2 664.6,1022.7 664.8,1018.2 665.1,1019.0 665.4,1015.6 665.6,1025.4 665.9,1030.8 666.1,1026.1 666.4,1012.8 666.6,1018.4 666.9,1023.3 667.1,1015.7 667.4,1023.2 667.7,1014.2 667.9,1023.1 668.2,1023.1 668.4,1018.4 668.7,1026.3 668.9,1022.1 669.2,1013.1 669.4,1019.5 669.7,1026.1 670.0,1022.5 670.2,1021.5 670.5,1024.7 670.7,1019.6 671.0,1016.0 671.2,1021.2 671.5,1017.6 671.8,1020.2 672.0,1020.8 672.3,1024.6 672.5,1017.3 672.8,1015.6 673.0,1023.4 673.3,1025.2 673.5,1019.2 673.8,1021.0 674.1,1016.6 674.3,1019.3 674.6,1022.0 674.8,1027.4 675.1,1018.8 675.3,1021.0 675.6,1026.9 675.8,1027.8 676.1,1029.3 676.4,1018.8 676.6,1023.3 676.9,1035.7 677.1,1025.2 677.4,1024.2 677.6,1021.9 677.9,1021.3 678.1,1022.9 678.4,1018.3 678.7,1017.0 678.9,1022.4 679.2,1014.7 679.4,1022.0 679.7,1025.2 679.9,1020.8 680.2,1027.6 680.4,1022.7 680.7,1026.0" fill="none" stroke="#000" stroke-width="1.5" stroke-linejoin="round"/>
<text x="393.30" y="816.20" font-size="30" font-family="Liberation Sans, Arial, sans-serif" font-weight="bold">Substrate</text>
<text font-family="Liberation Sans, Arial, sans-serif" font-weight="bold"><tspan x="374.79" y="855.90" font-size="30"  textLength="53.91" lengthAdjust="spacingAndGlyphs">ZrO</tspan><tspan x="428.27" y="855.90" font-size="13.5"  textLength="9.96" lengthAdjust="spacingAndGlyphs">2</tspan></text>
<text x="374.59" y="891.50" font-size="30" font-family="Liberation Sans, Arial, sans-serif" font-weight="bold" style="font-kerning:none" textLength="70.46" lengthAdjust="spacingAndGlyphs">(111)</text>
<text x="571.97" y="899.10" font-size="30" font-family="Liberation Sans, Arial, sans-serif" font-weight="bold" fill="#ff0000" textLength="102.27" lengthAdjust="spacingAndGlyphs">1400 W</text>
<text x="495.10" y="986.60" font-size="30" font-family="Liberation Sans, Arial, sans-serif" font-weight="bold">as deposited</text>
<text font-family="Liberation Sans, Arial, sans-serif" font-weight="bold"><tspan x="428.96" y="1128.40" font-size="30.3"  textLength="18.19" lengthAdjust="spacingAndGlyphs">2</tspan><tspan x="446.72" y="1128.40" font-size="30.3" font-family="Liberation Serif, DejaVu Serif, serif" font-weight="normal" textLength="11.54" lengthAdjust="spacingAndGlyphs">θ</tspan><tspan x="459.28" y="1128.40" font-size="30.3"  textLength="128.29" lengthAdjust="spacingAndGlyphs"> (degree)</tspan></text>
<text transform="translate(247.00 1061.05) rotate(-90)" font-size="30.8" font-family="Liberation Sans, Arial, sans-serif" font-weight="bold" textLength="255.05" lengthAdjust="spacingAndGlyphs">Intensity (Counts)</text>
<rect x="303.2" y="1140.5" width="284.4" height="147.2" fill="#fff" stroke="#333" stroke-width="1.2"/>
<rect x="335.50" y="1154.80" width="15.60" height="15.60" fill="none" stroke="#000" stroke-width="4.5"/>
<circle cx="343.30" cy="1198.20" r="9.00" fill="none" stroke="#ff0000" stroke-width="5.0"/>
<polygon points="343.40,1220.87 332.20,1240.27 354.60,1240.27" fill="none" stroke="#0000ff" stroke-width="5.0" stroke-linejoin="round"/>
<polygon points="343.40,1282.73 332.20,1263.33 354.60,1263.33" fill="none" stroke="#008080" stroke-width="5.0" stroke-linejoin="round"/>
<text x="380.75" y="1170.30" font-size="28.3" font-family="Liberation Sans, Arial, sans-serif" font-weight="bold" textLength="173.58" lengthAdjust="spacingAndGlyphs">as deposited</text>
<text x="382.34" y="1206.50" font-size="28.3" font-family="Liberation Sans, Arial, sans-serif" font-weight="bold" textLength="180.85" lengthAdjust="spacingAndGlyphs">700 W (5 min)</text>
<text x="382.78" y="1241.90" font-size="28.3" font-family="Liberation Sans, Arial, sans-serif" font-weight="bold" textLength="196.54" lengthAdjust="spacingAndGlyphs">1050 W (5 min)</text>
<text x="382.78" y="1278.00" font-size="28.3" font-family="Liberation Sans, Arial, sans-serif" font-weight="bold" textLength="196.54" lengthAdjust="spacingAndGlyphs">1400 W (5 min)</text>
</g>
</svg>
</body></html>
